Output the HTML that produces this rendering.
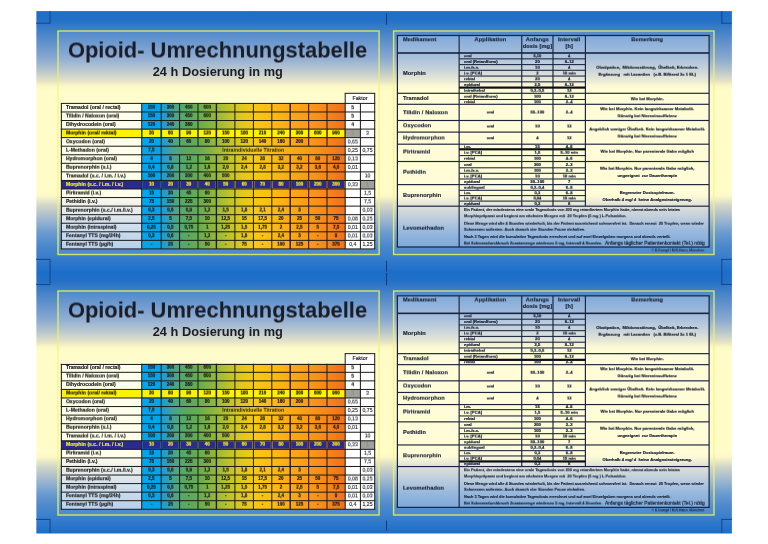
<!DOCTYPE html>
<html><head><meta charset="utf-8"><title>Opioid-Umrechnungstabelle</title>
<style>
html,body{margin:0;padding:0;background:#fff;}
body{width:768px;height:544px;position:relative;overflow:hidden;font-family:"Liberation Sans",sans-serif;}
#geo{position:absolute;left:0;top:0;}
.t{position:absolute;}
.ly{position:absolute;left:0;top:0;width:768px;height:544px;}
.t{white-space:pre;color:#1c1c1c;font-weight:bold;overflow:visible;}
.c{text-align:center;}
.title{font-size:21.9px;text-align:center;color:#1c1c24;transform:scaleY(1.035);transform-origin:0 20px;}
.sub{font-size:12.8px;text-align:center;color:#1c1c24;}
.cell{font-size:4.5px;-webkit-text-stroke:0.2px;}
.fk{font-size:5.2px;font-weight:normal;color:#242a38;-webkit-text-stroke:0.12px #242a38;}
.fh{font-size:5.3px;font-weight:normal;-webkit-text-stroke:0.15px;}
.lab{font-size:5.1px;-webkit-text-stroke:0.18px;}
.it{font-size:5.2px;color:#2a2010;}
.rh{font-size:5.6px;color:#1a2236;letter-spacing:0.12px;-webkit-text-stroke:0.18px #1a2236;}
.rn{font-size:5.6px;color:#1a2236;letter-spacing:0.1px;-webkit-text-stroke:0.18px #1a2236;}
.rs{font-size:4.1px;color:#1a2236;-webkit-text-stroke:0.22px #1a2236;}
.rm{font-size:4.15px;color:#1a2236;-webkit-text-stroke:0.2px #1a2236;}
.lv{font-size:3.9px;color:#1a2236;-webkit-text-stroke:0.13px #1a2236;}
.lv2{font-size:4.9px;color:#141828;font-weight:normal;-webkit-text-stroke:0.15px #141828;}
.cp{font-size:3.4px;color:#1a2236;text-align:right;}
</style></head><body>
<svg id="geo" width="768" height="544" viewBox="0 0 768 544">
<defs><linearGradient id="bgg" gradientUnits="userSpaceOnUse" x1="0" y1="11" x2="0" y2="272" spreadMethod="repeat"><stop offset="0%" stop-color="#1c6ec8"/><stop offset="3.4%" stop-color="#2270c6"/><stop offset="6.5%" stop-color="#3a7cc8"/><stop offset="11.1%" stop-color="#5a8ecb"/><stop offset="14.9%" stop-color="#749cce"/><stop offset="18%" stop-color="#88a8d0"/><stop offset="22.6%" stop-color="#b4c4cc"/><stop offset="26.8%" stop-color="#e4e2c4"/><stop offset="28.7%" stop-color="#fcf8c4"/><stop offset="30.3%" stop-color="#fffcc8"/><stop offset="69.3%" stop-color="#fffcc8"/><stop offset="70.9%" stop-color="#fcf8c8"/><stop offset="74.7%" stop-color="#d0d4c8"/><stop offset="79.7%" stop-color="#a0b8d0"/><stop offset="84.7%" stop-color="#6c9cd0"/><stop offset="89.8%" stop-color="#4c88cc"/><stop offset="93.5%" stop-color="#3c80cc"/><stop offset="96.9%" stop-color="#2a76ca"/><stop offset="100%" stop-color="#1c6ec8"/></linearGradient>
<linearGradient id="tg" x1="0" y1="0" x2="1" y2="0"><stop offset="0%" stop-color="#00a6ee"/><stop offset="8.5%" stop-color="#02a4ea"/><stop offset="12%" stop-color="#2c9cc0"/><stop offset="16%" stop-color="#4aa48c"/><stop offset="21%" stop-color="#58a864"/><stop offset="28%" stop-color="#66ac50"/><stop offset="35%" stop-color="#8cb63c"/><stop offset="42%" stop-color="#b8c22c"/><stop offset="49%" stop-color="#e0c81c"/><stop offset="56%" stop-color="#f8c812"/><stop offset="64%" stop-color="#fcbc12"/><stop offset="73%" stop-color="#fcaa14"/><stop offset="82%" stop-color="#fa9a18"/><stop offset="91%" stop-color="#f6861a"/><stop offset="100%" stop-color="#f0701c"/></linearGradient>
<linearGradient id="fg" gradientUnits="userSpaceOnUse" x1="0" y1="30.3" x2="0" y2="290.8" spreadMethod="repeat"><stop offset="0" stop-color="#d2e468"/><stop offset="0.17" stop-color="#e4ee74"/><stop offset="0.24" stop-color="#f6f68a"/><stop offset="0.62" stop-color="#f6f68a"/><stop offset="0.72" stop-color="#e2ec72"/><stop offset="0.86" stop-color="#d2e468"/><stop offset="1" stop-color="#d2e468"/></linearGradient></defs>
<rect x="36.35" y="11.1" width="695.55" height="522.4" fill="url(#bgg)"/>
<rect x="58.00" y="31.00" width="321.10" height="223.50" fill="rgba(255,255,255,0.07)"/>
<rect x="58.00" y="31.00" width="321.10" height="223.50" fill="none" stroke="url(#fg)" stroke-width="1.4"/>
<rect x="141.70" y="103.40" width="203.50" height="145.52" fill="url(#tg)"/>
<rect x="61.35" y="103.40" width="80.35" height="145.52" fill="rgba(255,255,255,0.6)"/>
<rect x="345.20" y="93.30" width="29.50" height="155.62" fill="#fff"/>
<rect x="61.35" y="129.08" width="80.35" height="8.56" fill="#fff200"/>
<rect x="142.65" y="129.68" width="17.60" height="7.36" fill="#fff200"/>
<rect x="162.15" y="129.68" width="16.50" height="7.36" fill="#fff200"/>
<rect x="180.55" y="129.68" width="16.50" height="7.36" fill="#fff200"/>
<rect x="198.95" y="129.68" width="16.50" height="7.36" fill="#fff200"/>
<rect x="217.35" y="129.68" width="16.60" height="7.36" fill="#fff200"/>
<rect x="235.85" y="129.68" width="16.60" height="7.36" fill="#fff200"/>
<rect x="254.35" y="129.68" width="16.50" height="7.36" fill="#fff200"/>
<rect x="272.75" y="129.68" width="16.50" height="7.36" fill="#fff200"/>
<rect x="291.15" y="129.68" width="16.60" height="7.36" fill="#fff200"/>
<rect x="309.65" y="129.68" width="16.40" height="7.36" fill="#fff200"/>
<rect x="327.95" y="129.68" width="16.30" height="7.36" fill="#fff200"/>
<rect x="345.20" y="129.08" width="15.20" height="8.56" fill="#a0a0a0"/>
<rect x="61.35" y="180.44" width="80.35" height="8.56" fill="#2a2a90"/>
<rect x="142.65" y="181.04" width="17.60" height="7.36" fill="#2a2a90"/>
<rect x="162.15" y="181.04" width="16.50" height="7.36" fill="#2a2a90"/>
<rect x="180.55" y="181.04" width="16.50" height="7.36" fill="#2a2a90"/>
<rect x="198.95" y="181.04" width="16.50" height="7.36" fill="#2a2a90"/>
<rect x="217.35" y="181.04" width="16.60" height="7.36" fill="#2a2a90"/>
<rect x="235.85" y="181.04" width="16.60" height="7.36" fill="#2a2a90"/>
<rect x="254.35" y="181.04" width="16.50" height="7.36" fill="#2a2a90"/>
<rect x="272.75" y="181.04" width="16.50" height="7.36" fill="#2a2a90"/>
<rect x="291.15" y="181.04" width="16.60" height="7.36" fill="#2a2a90"/>
<rect x="309.65" y="181.04" width="16.40" height="7.36" fill="#2a2a90"/>
<rect x="327.95" y="181.04" width="16.30" height="7.36" fill="#2a2a90"/>
<rect x="360.40" y="180.44" width="14.30" height="8.56" fill="#a0a0a0"/>
<rect x="60.85" y="102.90" width="314.35" height="1.00" fill="#1a1a18"/>
<rect x="60.85" y="111.46" width="314.35" height="1.00" fill="#1a1a18"/>
<rect x="60.85" y="120.02" width="314.35" height="1.00" fill="#1a1a18"/>
<rect x="60.85" y="128.58" width="314.35" height="1.00" fill="#1a1a18"/>
<rect x="60.85" y="137.14" width="314.35" height="1.00" fill="#1a1a18"/>
<rect x="60.85" y="145.70" width="314.35" height="1.00" fill="#1a1a18"/>
<rect x="60.85" y="154.26" width="314.35" height="1.00" fill="#1a1a18"/>
<rect x="60.85" y="162.82" width="314.35" height="1.00" fill="#1a1a18"/>
<rect x="60.85" y="171.38" width="314.35" height="1.00" fill="#1a1a18"/>
<rect x="60.85" y="179.94" width="314.35" height="1.00" fill="#1a1a18"/>
<rect x="60.85" y="188.50" width="314.35" height="1.00" fill="#1a1a18"/>
<rect x="60.85" y="197.06" width="314.35" height="1.00" fill="#1a1a18"/>
<rect x="60.85" y="205.62" width="314.35" height="1.00" fill="#1a1a18"/>
<rect x="60.85" y="214.18" width="314.35" height="1.00" fill="#1a1a18"/>
<rect x="60.85" y="222.74" width="314.35" height="1.00" fill="#1a1a18"/>
<rect x="60.85" y="231.30" width="314.35" height="1.00" fill="#1a1a18"/>
<rect x="60.85" y="239.86" width="314.35" height="1.00" fill="#1a1a18"/>
<rect x="60.85" y="248.42" width="314.35" height="1.00" fill="#1a1a18"/>
<rect x="344.70" y="92.80" width="30.50" height="1.00" fill="#1a1a18"/>
<rect x="344.70" y="93.30" width="1.00" height="10.10" fill="#1a1a18"/>
<rect x="374.20" y="93.30" width="1.00" height="10.10" fill="#1a1a18"/>
<rect x="60.85" y="103.40" width="1.00" height="145.52" fill="#1a1a18"/>
<rect x="141.20" y="103.40" width="1.00" height="145.52" fill="#1a1a18"/>
<rect x="160.70" y="103.40" width="1.00" height="145.52" fill="#1a1a18"/>
<rect x="179.10" y="103.40" width="1.00" height="42.80" fill="#1a1a18"/>
<rect x="179.10" y="154.76" width="1.00" height="94.16" fill="#1a1a18"/>
<rect x="197.50" y="103.40" width="1.00" height="42.80" fill="#1a1a18"/>
<rect x="197.50" y="154.76" width="1.00" height="94.16" fill="#1a1a18"/>
<rect x="215.72" y="103.40" width="1.35" height="42.80" fill="#1a1a18"/>
<rect x="215.72" y="154.76" width="1.35" height="94.16" fill="#1a1a18"/>
<rect x="234.40" y="103.40" width="1.00" height="42.80" fill="#1a1a18"/>
<rect x="234.40" y="154.76" width="1.00" height="94.16" fill="#1a1a18"/>
<rect x="252.90" y="103.40" width="1.00" height="42.80" fill="#1a1a18"/>
<rect x="252.90" y="154.76" width="1.00" height="94.16" fill="#1a1a18"/>
<rect x="271.30" y="103.40" width="1.00" height="42.80" fill="#1a1a18"/>
<rect x="271.30" y="154.76" width="1.00" height="94.16" fill="#1a1a18"/>
<rect x="289.52" y="103.40" width="1.35" height="42.80" fill="#1a1a18"/>
<rect x="289.52" y="154.76" width="1.35" height="94.16" fill="#1a1a18"/>
<rect x="308.20" y="103.40" width="1.00" height="42.80" fill="#1a1a18"/>
<rect x="308.20" y="154.76" width="1.00" height="94.16" fill="#1a1a18"/>
<rect x="326.50" y="103.40" width="1.00" height="42.80" fill="#1a1a18"/>
<rect x="326.50" y="154.76" width="1.00" height="94.16" fill="#1a1a18"/>
<rect x="344.70" y="103.40" width="1.00" height="145.52" fill="#1a1a18"/>
<rect x="359.90" y="103.40" width="1.00" height="145.52" fill="#1a1a18"/>
<rect x="374.20" y="103.40" width="1.00" height="145.52" fill="#1a1a18"/>
<rect x="393.60" y="31.00" width="320.40" height="223.50" fill="rgba(255,255,255,0.07)"/>
<rect x="393.60" y="31.00" width="320.40" height="223.50" fill="none" stroke="url(#fg)" stroke-width="1.4"/>
<rect x="397.40" y="35.50" width="311.70" height="211.50" fill="rgba(255,255,255,0.24)"/>
<rect x="459.15" y="53.00" width="126.25" height="40.30" fill="rgba(255,255,255,0.08)"/>
<rect x="459.15" y="93.30" width="126.25" height="11.00" fill="rgba(255,255,255,0.08)"/>
<rect x="459.15" y="144.20" width="126.25" height="17.30" fill="rgba(255,255,255,0.08)"/>
<rect x="459.15" y="161.50" width="126.25" height="23.10" fill="rgba(255,255,255,0.08)"/>
<rect x="459.15" y="184.60" width="126.25" height="21.60" fill="rgba(255,255,255,0.08)"/>
<rect x="396.80" y="34.90" width="312.90" height="1.20" fill="#1a243c"/>
<rect x="396.80" y="246.40" width="312.90" height="1.20" fill="#1a243c"/>
<rect x="397.40" y="52.20" width="311.70" height="1.60" fill="#1a243c"/>
<rect x="396.80" y="35.50" width="1.20" height="211.50" fill="#1a243c"/>
<rect x="708.50" y="35.50" width="1.20" height="211.50" fill="#1a243c"/>
<rect x="458.57" y="35.50" width="1.15" height="211.50" fill="#1a243c"/>
<rect x="521.17" y="35.50" width="1.15" height="170.60" fill="#1a243c"/>
<rect x="552.42" y="35.50" width="1.15" height="170.60" fill="#1a243c"/>
<rect x="584.82" y="35.50" width="1.15" height="170.60" fill="#1a243c"/>
<rect x="397.40" y="92.72" width="311.70" height="1.15" fill="#1a243c"/>
<rect x="459.15" y="58.33" width="126.25" height="1.05" fill="#1a243c"/>
<rect x="459.15" y="64.07" width="126.25" height="1.05" fill="#1a243c"/>
<rect x="459.15" y="69.77" width="126.25" height="1.05" fill="#1a243c"/>
<rect x="459.15" y="75.52" width="126.25" height="1.05" fill="#1a243c"/>
<rect x="459.15" y="81.32" width="126.25" height="1.05" fill="#1a243c"/>
<rect x="459.15" y="86.50" width="126.25" height="2.20" fill="#0c0e16"/>
<rect x="397.40" y="103.72" width="311.70" height="1.15" fill="#1a243c"/>
<rect x="459.15" y="98.97" width="126.25" height="1.05" fill="#1a243c"/>
<rect x="397.40" y="119.92" width="311.70" height="1.15" fill="#1a243c"/>
<rect x="397.40" y="131.53" width="188.00" height="1.15" fill="#1a243c"/>
<rect x="397.40" y="143.62" width="311.70" height="1.15" fill="#1a243c"/>
<rect x="397.40" y="160.93" width="311.70" height="1.15" fill="#1a243c"/>
<rect x="459.15" y="148.20" width="126.25" height="2.20" fill="#0c0e16"/>
<rect x="459.15" y="155.07" width="126.25" height="1.05" fill="#1a243c"/>
<rect x="397.40" y="184.03" width="311.70" height="1.15" fill="#1a243c"/>
<rect x="459.15" y="167.28" width="126.25" height="1.05" fill="#1a243c"/>
<rect x="459.15" y="172.78" width="126.25" height="1.05" fill="#1a243c"/>
<rect x="459.15" y="178.47" width="126.25" height="1.05" fill="#1a243c"/>
<rect x="397.40" y="205.62" width="311.70" height="1.15" fill="#1a243c"/>
<rect x="459.15" y="189.78" width="126.25" height="1.05" fill="#1a243c"/>
<rect x="459.15" y="195.07" width="126.25" height="1.05" fill="#1a243c"/>
<rect x="459.15" y="200.57" width="126.25" height="1.05" fill="#1a243c"/>
<rect x="58.00" y="291.00" width="321.10" height="224.00" fill="rgba(255,255,255,0.07)"/>
<rect x="58.00" y="291.00" width="321.10" height="224.00" fill="none" stroke="url(#fg)" stroke-width="1.4"/>
<rect x="141.70" y="363.75" width="203.50" height="145.52" fill="url(#tg)"/>
<rect x="61.35" y="363.75" width="80.35" height="145.52" fill="rgba(255,255,255,0.6)"/>
<rect x="345.20" y="353.65" width="29.50" height="155.62" fill="#fff"/>
<rect x="61.35" y="389.43" width="80.35" height="8.56" fill="#fff200"/>
<rect x="142.65" y="390.03" width="17.60" height="7.36" fill="#fff200"/>
<rect x="162.15" y="390.03" width="16.50" height="7.36" fill="#fff200"/>
<rect x="180.55" y="390.03" width="16.50" height="7.36" fill="#fff200"/>
<rect x="198.95" y="390.03" width="16.50" height="7.36" fill="#fff200"/>
<rect x="217.35" y="390.03" width="16.60" height="7.36" fill="#fff200"/>
<rect x="235.85" y="390.03" width="16.60" height="7.36" fill="#fff200"/>
<rect x="254.35" y="390.03" width="16.50" height="7.36" fill="#fff200"/>
<rect x="272.75" y="390.03" width="16.50" height="7.36" fill="#fff200"/>
<rect x="291.15" y="390.03" width="16.60" height="7.36" fill="#fff200"/>
<rect x="309.65" y="390.03" width="16.40" height="7.36" fill="#fff200"/>
<rect x="327.95" y="390.03" width="16.30" height="7.36" fill="#fff200"/>
<rect x="345.20" y="389.43" width="15.20" height="8.56" fill="#a0a0a0"/>
<rect x="61.35" y="440.79" width="80.35" height="8.56" fill="#2a2a90"/>
<rect x="142.65" y="441.39" width="17.60" height="7.36" fill="#2a2a90"/>
<rect x="162.15" y="441.39" width="16.50" height="7.36" fill="#2a2a90"/>
<rect x="180.55" y="441.39" width="16.50" height="7.36" fill="#2a2a90"/>
<rect x="198.95" y="441.39" width="16.50" height="7.36" fill="#2a2a90"/>
<rect x="217.35" y="441.39" width="16.60" height="7.36" fill="#2a2a90"/>
<rect x="235.85" y="441.39" width="16.60" height="7.36" fill="#2a2a90"/>
<rect x="254.35" y="441.39" width="16.50" height="7.36" fill="#2a2a90"/>
<rect x="272.75" y="441.39" width="16.50" height="7.36" fill="#2a2a90"/>
<rect x="291.15" y="441.39" width="16.60" height="7.36" fill="#2a2a90"/>
<rect x="309.65" y="441.39" width="16.40" height="7.36" fill="#2a2a90"/>
<rect x="327.95" y="441.39" width="16.30" height="7.36" fill="#2a2a90"/>
<rect x="360.40" y="440.79" width="14.30" height="8.56" fill="#a0a0a0"/>
<rect x="60.85" y="363.95" width="314.35" height="1.00" fill="#1a1a18"/>
<rect x="60.85" y="371.81" width="314.35" height="1.00" fill="#1a1a18"/>
<rect x="60.85" y="380.37" width="314.35" height="1.00" fill="#1a1a18"/>
<rect x="60.85" y="388.93" width="314.35" height="1.00" fill="#1a1a18"/>
<rect x="60.85" y="397.49" width="314.35" height="1.00" fill="#1a1a18"/>
<rect x="60.85" y="406.05" width="314.35" height="1.00" fill="#1a1a18"/>
<rect x="60.85" y="414.61" width="314.35" height="1.00" fill="#1a1a18"/>
<rect x="60.85" y="423.17" width="314.35" height="1.00" fill="#1a1a18"/>
<rect x="60.85" y="431.73" width="314.35" height="1.00" fill="#1a1a18"/>
<rect x="60.85" y="440.29" width="314.35" height="1.00" fill="#1a1a18"/>
<rect x="60.85" y="448.85" width="314.35" height="1.00" fill="#1a1a18"/>
<rect x="60.85" y="457.41" width="314.35" height="1.00" fill="#1a1a18"/>
<rect x="60.85" y="465.97" width="314.35" height="1.00" fill="#1a1a18"/>
<rect x="60.85" y="474.53" width="314.35" height="1.00" fill="#1a1a18"/>
<rect x="60.85" y="483.09" width="314.35" height="1.00" fill="#1a1a18"/>
<rect x="60.85" y="491.65" width="314.35" height="1.00" fill="#1a1a18"/>
<rect x="60.85" y="500.21" width="314.35" height="1.00" fill="#1a1a18"/>
<rect x="60.85" y="508.77" width="314.35" height="1.00" fill="#1a1a18"/>
<rect x="344.70" y="353.15" width="30.50" height="1.00" fill="#1a1a18"/>
<rect x="344.70" y="353.65" width="1.00" height="10.10" fill="#1a1a18"/>
<rect x="374.20" y="353.65" width="1.00" height="10.10" fill="#1a1a18"/>
<rect x="60.85" y="363.75" width="1.00" height="145.52" fill="#1a1a18"/>
<rect x="141.20" y="363.75" width="1.00" height="145.52" fill="#1a1a18"/>
<rect x="160.70" y="363.75" width="1.00" height="145.52" fill="#1a1a18"/>
<rect x="179.10" y="363.75" width="1.00" height="42.80" fill="#1a1a18"/>
<rect x="179.10" y="415.11" width="1.00" height="94.16" fill="#1a1a18"/>
<rect x="197.50" y="363.75" width="1.00" height="42.80" fill="#1a1a18"/>
<rect x="197.50" y="415.11" width="1.00" height="94.16" fill="#1a1a18"/>
<rect x="215.72" y="363.75" width="1.35" height="42.80" fill="#1a1a18"/>
<rect x="215.72" y="415.11" width="1.35" height="94.16" fill="#1a1a18"/>
<rect x="234.40" y="363.75" width="1.00" height="42.80" fill="#1a1a18"/>
<rect x="234.40" y="415.11" width="1.00" height="94.16" fill="#1a1a18"/>
<rect x="252.90" y="363.75" width="1.00" height="42.80" fill="#1a1a18"/>
<rect x="252.90" y="415.11" width="1.00" height="94.16" fill="#1a1a18"/>
<rect x="271.30" y="363.75" width="1.00" height="42.80" fill="#1a1a18"/>
<rect x="271.30" y="415.11" width="1.00" height="94.16" fill="#1a1a18"/>
<rect x="289.52" y="363.75" width="1.35" height="42.80" fill="#1a1a18"/>
<rect x="289.52" y="415.11" width="1.35" height="94.16" fill="#1a1a18"/>
<rect x="308.20" y="363.75" width="1.00" height="42.80" fill="#1a1a18"/>
<rect x="308.20" y="415.11" width="1.00" height="94.16" fill="#1a1a18"/>
<rect x="326.50" y="363.75" width="1.00" height="42.80" fill="#1a1a18"/>
<rect x="326.50" y="415.11" width="1.00" height="94.16" fill="#1a1a18"/>
<rect x="344.70" y="363.75" width="1.00" height="145.52" fill="#1a1a18"/>
<rect x="359.90" y="363.75" width="1.00" height="145.52" fill="#1a1a18"/>
<rect x="374.20" y="363.75" width="1.00" height="145.52" fill="#1a1a18"/>
<rect x="393.60" y="291.00" width="320.40" height="224.00" fill="rgba(255,255,255,0.07)"/>
<rect x="393.60" y="291.00" width="320.40" height="224.00" fill="none" stroke="url(#fg)" stroke-width="1.4"/>
<rect x="397.40" y="295.85" width="311.70" height="211.50" fill="rgba(255,255,255,0.24)"/>
<rect x="459.15" y="313.35" width="126.25" height="40.30" fill="rgba(255,255,255,0.08)"/>
<rect x="459.15" y="353.65" width="126.25" height="11.00" fill="rgba(255,255,255,0.08)"/>
<rect x="459.15" y="404.55" width="126.25" height="17.30" fill="rgba(255,255,255,0.08)"/>
<rect x="459.15" y="421.85" width="126.25" height="23.10" fill="rgba(255,255,255,0.08)"/>
<rect x="459.15" y="444.95" width="126.25" height="21.60" fill="rgba(255,255,255,0.08)"/>
<rect x="396.80" y="295.25" width="312.90" height="1.20" fill="#1a243c"/>
<rect x="396.80" y="506.75" width="312.90" height="1.20" fill="#1a243c"/>
<rect x="397.40" y="312.55" width="311.70" height="1.60" fill="#1a243c"/>
<rect x="396.80" y="295.85" width="1.20" height="211.50" fill="#1a243c"/>
<rect x="708.50" y="295.85" width="1.20" height="211.50" fill="#1a243c"/>
<rect x="458.57" y="295.85" width="1.15" height="211.50" fill="#1a243c"/>
<rect x="521.17" y="295.85" width="1.15" height="170.60" fill="#1a243c"/>
<rect x="552.42" y="295.85" width="1.15" height="170.60" fill="#1a243c"/>
<rect x="584.82" y="295.85" width="1.15" height="170.60" fill="#1a243c"/>
<rect x="397.40" y="353.08" width="311.70" height="1.15" fill="#1a243c"/>
<rect x="459.15" y="318.68" width="126.25" height="1.05" fill="#1a243c"/>
<rect x="459.15" y="324.43" width="126.25" height="1.05" fill="#1a243c"/>
<rect x="459.15" y="330.13" width="126.25" height="1.05" fill="#1a243c"/>
<rect x="459.15" y="335.88" width="126.25" height="1.05" fill="#1a243c"/>
<rect x="459.15" y="341.68" width="126.25" height="1.05" fill="#1a243c"/>
<rect x="459.15" y="347.43" width="126.25" height="1.05" fill="#1a243c"/>
<rect x="397.40" y="364.08" width="311.70" height="1.15" fill="#1a243c"/>
<rect x="459.15" y="358.75" width="126.25" height="2.20" fill="#0c0e16"/>
<rect x="397.40" y="380.28" width="311.70" height="1.15" fill="#1a243c"/>
<rect x="397.40" y="391.88" width="188.00" height="1.15" fill="#1a243c"/>
<rect x="397.40" y="403.98" width="311.70" height="1.15" fill="#1a243c"/>
<rect x="397.40" y="421.28" width="311.70" height="1.15" fill="#1a243c"/>
<rect x="459.15" y="409.13" width="126.25" height="1.05" fill="#1a243c"/>
<rect x="459.15" y="415.43" width="126.25" height="1.05" fill="#1a243c"/>
<rect x="397.40" y="444.38" width="311.70" height="1.15" fill="#1a243c"/>
<rect x="459.15" y="427.63" width="126.25" height="1.05" fill="#1a243c"/>
<rect x="459.15" y="433.13" width="126.25" height="1.05" fill="#1a243c"/>
<rect x="459.15" y="438.83" width="126.25" height="1.05" fill="#1a243c"/>
<rect x="397.40" y="465.98" width="311.70" height="1.15" fill="#1a243c"/>
<rect x="459.15" y="450.13" width="126.25" height="1.05" fill="#1a243c"/>
<rect x="459.15" y="455.43" width="126.25" height="1.05" fill="#1a243c"/>
<rect x="459.15" y="460.35" width="126.25" height="2.20" fill="#0c0e16"/>
<rect x="49.60" y="11.00" width="0.90" height="12.50" fill="#143e86"/>
<rect x="721.40" y="11.00" width="0.90" height="12.50" fill="#143e86"/>
<rect x="49.60" y="259.00" width="0.90" height="25.70" fill="#143e86"/>
<rect x="721.40" y="259.00" width="0.90" height="25.70" fill="#143e86"/>
<rect x="49.60" y="518.90" width="0.90" height="14.10" fill="#143e86"/>
<rect x="721.40" y="518.90" width="0.90" height="14.10" fill="#143e86"/>
<rect x="36.00" y="22.70" width="14.00" height="0.90" fill="#143e86"/>
<rect x="721.40" y="22.70" width="10.60" height="0.90" fill="#143e86"/>
<rect x="36.00" y="258.90" width="14.00" height="0.90" fill="#143e86"/>
<rect x="721.40" y="258.90" width="10.60" height="0.90" fill="#143e86"/>
<rect x="36.00" y="283.90" width="14.00" height="0.90" fill="#143e86"/>
<rect x="721.40" y="283.90" width="10.60" height="0.90" fill="#143e86"/>
<rect x="36.00" y="518.90" width="14.00" height="0.90" fill="#143e86"/>
<rect x="721.40" y="518.90" width="10.60" height="0.90" fill="#143e86"/>
<rect x="386.15" y="13.50" width="0.75" height="11.20" fill="#0e2450"/>
<rect x="386.15" y="260.70" width="0.75" height="10.90" fill="#0e2450"/>
<rect x="386.15" y="273.00" width="0.75" height="12.20" fill="#0e2450"/>
<rect x="386.15" y="520.60" width="0.75" height="10.00" fill="#0e2450"/>
</svg>
<div class="ly" style="transform:perspective(10000px) translate3d(0,0.0px,0.1px);">
<div class="t sub" style="left:56.80px;top:64.10px;width:322.00px;height:15.36px;line-height:15.36px;">24 h Dosierung in mg</div>
<div class="t c fh" style="left:345.20px;top:94.10px;width:29.50px;height:8.00px;line-height:8.00px;">Faktor</div>
<div class="t lab" style="left:65.90px;top:103.10px;width:76.00px;height:8.00px;line-height:8.00px;">Tramadol (oral / rectal)</div>
<div class="t lab" style="left:65.90px;top:120.10px;width:76.00px;height:8.00px;line-height:8.00px;">Dihydrocodein (oral)</div>
<div class="t c cell" style="left:141.70px;top:121.10px;width:19.50px;height:8.00px;line-height:8.00px;">120</div>
<div class="t c cell" style="left:161.20px;top:121.10px;width:18.40px;height:8.00px;line-height:8.00px;">240</div>
<div class="t c cell" style="left:179.60px;top:121.10px;width:18.40px;height:8.00px;line-height:8.00px;">360</div>
<div class="t c cell" style="left:141.70px;top:138.10px;width:19.50px;height:8.00px;line-height:8.00px;">20</div>
<div class="t c cell" style="left:161.20px;top:138.10px;width:18.40px;height:8.00px;line-height:8.00px;">40</div>
<div class="t c cell" style="left:179.60px;top:138.10px;width:18.40px;height:8.00px;line-height:8.00px;">60</div>
<div class="t c cell" style="left:198.00px;top:138.10px;width:18.40px;height:8.00px;line-height:8.00px;">80</div>
<div class="t c cell" style="left:216.40px;top:138.10px;width:18.50px;height:8.00px;line-height:8.00px;">100</div>
<div class="t c cell" style="left:234.90px;top:138.10px;width:18.50px;height:8.00px;line-height:8.00px;">120</div>
<div class="t c cell" style="left:253.40px;top:138.10px;width:18.40px;height:8.00px;line-height:8.00px;">140</div>
<div class="t c cell" style="left:271.80px;top:138.10px;width:18.40px;height:8.00px;line-height:8.00px;">160</div>
<div class="t c cell" style="left:290.20px;top:138.10px;width:18.50px;height:8.00px;line-height:8.00px;">200</div>
<div class="t c fk" style="left:345.20px;top:146.10px;width:15.20px;height:8.00px;line-height:8.00px;">0,25</div>
<div class="t c fk" style="left:360.40px;top:146.10px;width:14.30px;height:8.00px;line-height:8.00px;">0,75</div>
<div class="t c fk" style="left:345.20px;top:163.10px;width:15.20px;height:8.00px;line-height:8.00px;">0,01</div>
<div class="t lab" style="left:65.90px;top:180.10px;width:76.00px;height:8.00px;line-height:8.00px;color:#f4ec20;">Morphin (s.c. / i.m. / i.v.)</div>
<div class="t lab" style="left:65.90px;top:197.10px;width:76.00px;height:8.00px;line-height:8.00px;">Pethidin (i.v.)</div>
<div class="t c cell" style="left:141.70px;top:198.10px;width:19.50px;height:8.00px;line-height:8.00px;">75</div>
<div class="t c cell" style="left:161.20px;top:198.10px;width:18.40px;height:8.00px;line-height:8.00px;">150</div>
<div class="t c cell" style="left:179.60px;top:198.10px;width:18.40px;height:8.00px;line-height:8.00px;">225</div>
<div class="t c cell" style="left:198.00px;top:198.10px;width:18.40px;height:8.00px;line-height:8.00px;">300</div>
<div class="t c cell" style="left:141.70px;top:215.10px;width:19.50px;height:8.00px;line-height:8.00px;">2,5</div>
<div class="t c cell" style="left:161.20px;top:215.10px;width:18.40px;height:8.00px;line-height:8.00px;">5</div>
<div class="t c cell" style="left:179.60px;top:215.10px;width:18.40px;height:8.00px;line-height:8.00px;">7,5</div>
<div class="t c cell" style="left:198.00px;top:215.10px;width:18.40px;height:8.00px;line-height:8.00px;">10</div>
<div class="t c cell" style="left:216.40px;top:215.10px;width:18.50px;height:8.00px;line-height:8.00px;">12,5</div>
<div class="t c cell" style="left:234.90px;top:215.10px;width:18.50px;height:8.00px;line-height:8.00px;">15</div>
<div class="t c cell" style="left:253.40px;top:215.10px;width:18.40px;height:8.00px;line-height:8.00px;">17,5</div>
<div class="t c cell" style="left:271.80px;top:215.10px;width:18.40px;height:8.00px;line-height:8.00px;">20</div>
<div class="t c cell" style="left:290.20px;top:215.10px;width:18.50px;height:8.00px;line-height:8.00px;">25</div>
<div class="t c cell" style="left:308.70px;top:215.10px;width:18.30px;height:8.00px;line-height:8.00px;">50</div>
<div class="t c cell" style="left:327.00px;top:215.10px;width:18.20px;height:8.00px;line-height:8.00px;">75</div>
<div class="t c fk" style="left:345.20px;top:223.10px;width:15.20px;height:8.00px;line-height:8.00px;">0,01</div>
<div class="t c fk" style="left:360.40px;top:223.10px;width:14.30px;height:8.00px;line-height:8.00px;">0,03</div>
<div class="t c fk" style="left:345.20px;top:240.10px;width:15.20px;height:8.00px;line-height:8.00px;">0,4</div>
<div class="t c fk" style="left:360.40px;top:240.10px;width:14.30px;height:8.00px;line-height:8.00px;">1,25</div>
<div class="t c rh" style="left:521.75px;top:42.10px;width:31.25px;height:8.00px;line-height:8.00px;">dosis [mg]</div>
<div class="t c rh" style="left:553.00px;top:42.10px;width:32.40px;height:8.00px;line-height:8.00px;">[h]</div>
<div class="t rn" style="left:403.10px;top:69.10px;width:56.75px;height:8.00px;line-height:8.00px;">Morphin</div>
<div class="t rs" style="left:464.10px;top:58.10px;width:58.60px;height:8.00px;line-height:8.00px;">oral (Retardform)</div>
<div class="t c rs" style="left:521.75px;top:58.10px;width:31.25px;height:8.00px;line-height:8.00px;">20</div>
<div class="t c rs" style="left:553.00px;top:58.10px;width:32.40px;height:8.00px;line-height:8.00px;">8..12</div>
<div class="t rs" style="left:464.10px;top:81.10px;width:58.60px;height:8.00px;line-height:8.00px;">epidural</div>
<div class="t c rs" style="left:521.75px;top:81.10px;width:31.25px;height:8.00px;line-height:8.00px;">2,5</div>
<div class="t c rs" style="left:553.00px;top:81.10px;width:32.40px;height:8.00px;line-height:8.00px;">8..12</div>
<div class="t rn" style="left:403.10px;top:94.10px;width:56.75px;height:8.00px;line-height:8.00px;">Tramadol</div>
<div class="t rs" style="left:464.10px;top:143.10px;width:58.60px;height:8.00px;line-height:8.00px;">i.m.</div>
<div class="t c rs" style="left:521.75px;top:143.10px;width:31.25px;height:8.00px;line-height:8.00px;">15</div>
<div class="t c rs" style="left:553.00px;top:143.10px;width:32.40px;height:8.00px;line-height:8.00px;">4..6</div>
<div class="t rs" style="left:464.10px;top:161.10px;width:58.60px;height:8.00px;line-height:8.00px;">oral</div>
<div class="t c rs" style="left:521.75px;top:161.10px;width:31.25px;height:8.00px;line-height:8.00px;">300</div>
<div class="t c rs" style="left:553.00px;top:161.10px;width:32.40px;height:8.00px;line-height:8.00px;">2..3</div>
<div class="t rs" style="left:464.10px;top:178.10px;width:58.60px;height:8.00px;line-height:8.00px;">epidural</div>
<div class="t c rs" style="left:521.75px;top:178.10px;width:31.25px;height:8.00px;line-height:8.00px;">50..100</div>
<div class="t c rs" style="left:553.00px;top:178.10px;width:32.40px;height:8.00px;line-height:8.00px;">7</div>
<div class="t c rm" style="left:585.40px;top:172.10px;width:123.70px;height:8.00px;line-height:8.00px;">ungeeignet  zur Dauertherapie</div>
<div class="t rn" style="left:403.10px;top:191.10px;width:56.75px;height:8.00px;line-height:8.00px;">Buprenorphin</div>
<div class="t rs" style="left:464.10px;top:200.10px;width:58.60px;height:8.00px;line-height:8.00px;">epidural</div>
<div class="t c rs" style="left:521.75px;top:200.10px;width:31.25px;height:8.00px;line-height:8.00px;">0,3</div>
<div class="t c rs" style="left:553.00px;top:200.10px;width:32.40px;height:8.00px;line-height:8.00px;">8</div>
<div class="t c rm" style="left:585.40px;top:189.10px;width:123.70px;height:8.00px;line-height:8.00px;">Begrenzter Dosisspielraum.</div>
<div class="t c rm" style="left:585.40px;top:196.10px;width:123.70px;height:8.00px;line-height:8.00px;">Oberhalb 4 mg/ d  keine Analgesiesteigerung.</div>
<div class="t lv" style="left:463.90px;top:206.10px;width:250.00px;height:8.00px;line-height:8.00px;">Ein Patient, der mindestens eine orale Tagesdosis von 200 mg retardiertem Morphin hatte, nimmt abends sein letztes</div>
<div class="t lv" style="left:463.90px;top:233.10px;width:250.00px;height:8.00px;line-height:8.00px;">Nach 3 Tagen wird die kumulative Tagesdosis errechnet und auf zwei Einzelgaben morgens und abends verteilt.</div>
<div class="t sub" style="left:56.80px;top:324.10px;width:322.00px;height:15.36px;line-height:15.36px;">24 h Dosierung in mg</div>
<div class="t c fh" style="left:345.20px;top:354.10px;width:29.50px;height:8.00px;line-height:8.00px;">Faktor</div>
<div class="t lab" style="left:65.90px;top:363.10px;width:76.00px;height:8.00px;line-height:8.00px;">Tramadol (oral / rectal)</div>
<div class="t lab" style="left:65.90px;top:380.10px;width:76.00px;height:8.00px;line-height:8.00px;">Dihydrocodein (oral)</div>
<div class="t c cell" style="left:141.70px;top:381.10px;width:19.50px;height:8.00px;line-height:8.00px;">120</div>
<div class="t c cell" style="left:161.20px;top:381.10px;width:18.40px;height:8.00px;line-height:8.00px;">240</div>
<div class="t c cell" style="left:179.60px;top:381.10px;width:18.40px;height:8.00px;line-height:8.00px;">360</div>
<div class="t c cell" style="left:141.70px;top:398.10px;width:19.50px;height:8.00px;line-height:8.00px;">20</div>
<div class="t c cell" style="left:161.20px;top:398.10px;width:18.40px;height:8.00px;line-height:8.00px;">40</div>
<div class="t c cell" style="left:179.60px;top:398.10px;width:18.40px;height:8.00px;line-height:8.00px;">60</div>
<div class="t c cell" style="left:198.00px;top:398.10px;width:18.40px;height:8.00px;line-height:8.00px;">80</div>
<div class="t c cell" style="left:216.40px;top:398.10px;width:18.50px;height:8.00px;line-height:8.00px;">100</div>
<div class="t c cell" style="left:234.90px;top:398.10px;width:18.50px;height:8.00px;line-height:8.00px;">120</div>
<div class="t c cell" style="left:253.40px;top:398.10px;width:18.40px;height:8.00px;line-height:8.00px;">140</div>
<div class="t c cell" style="left:271.80px;top:398.10px;width:18.40px;height:8.00px;line-height:8.00px;">160</div>
<div class="t c cell" style="left:290.20px;top:398.10px;width:18.50px;height:8.00px;line-height:8.00px;">200</div>
<div class="t c fk" style="left:345.20px;top:406.10px;width:15.20px;height:8.00px;line-height:8.00px;">0,25</div>
<div class="t c fk" style="left:360.40px;top:406.10px;width:14.30px;height:8.00px;line-height:8.00px;">0,75</div>
<div class="t c fk" style="left:345.20px;top:423.10px;width:15.20px;height:8.00px;line-height:8.00px;">0,01</div>
<div class="t lab" style="left:65.90px;top:440.10px;width:76.00px;height:8.00px;line-height:8.00px;color:#f4ec20;">Morphin (s.c. / i.m. / i.v.)</div>
<div class="t lab" style="left:65.90px;top:457.10px;width:76.00px;height:8.00px;line-height:8.00px;">Pethidin (i.v.)</div>
<div class="t c cell" style="left:141.70px;top:458.10px;width:19.50px;height:8.00px;line-height:8.00px;">75</div>
<div class="t c cell" style="left:161.20px;top:458.10px;width:18.40px;height:8.00px;line-height:8.00px;">150</div>
<div class="t c cell" style="left:179.60px;top:458.10px;width:18.40px;height:8.00px;line-height:8.00px;">225</div>
<div class="t c cell" style="left:198.00px;top:458.10px;width:18.40px;height:8.00px;line-height:8.00px;">300</div>
<div class="t c cell" style="left:141.70px;top:475.10px;width:19.50px;height:8.00px;line-height:8.00px;">2,5</div>
<div class="t c cell" style="left:161.20px;top:475.10px;width:18.40px;height:8.00px;line-height:8.00px;">5</div>
<div class="t c cell" style="left:179.60px;top:475.10px;width:18.40px;height:8.00px;line-height:8.00px;">7,5</div>
<div class="t c cell" style="left:198.00px;top:475.10px;width:18.40px;height:8.00px;line-height:8.00px;">10</div>
<div class="t c cell" style="left:216.40px;top:475.10px;width:18.50px;height:8.00px;line-height:8.00px;">12,5</div>
<div class="t c cell" style="left:234.90px;top:475.10px;width:18.50px;height:8.00px;line-height:8.00px;">15</div>
<div class="t c cell" style="left:253.40px;top:475.10px;width:18.40px;height:8.00px;line-height:8.00px;">17,5</div>
<div class="t c cell" style="left:271.80px;top:475.10px;width:18.40px;height:8.00px;line-height:8.00px;">20</div>
<div class="t c cell" style="left:290.20px;top:475.10px;width:18.50px;height:8.00px;line-height:8.00px;">25</div>
<div class="t c cell" style="left:308.70px;top:475.10px;width:18.30px;height:8.00px;line-height:8.00px;">50</div>
<div class="t c cell" style="left:327.00px;top:475.10px;width:18.20px;height:8.00px;line-height:8.00px;">75</div>
<div class="t c fk" style="left:345.20px;top:483.10px;width:15.20px;height:8.00px;line-height:8.00px;">0,01</div>
<div class="t c fk" style="left:360.40px;top:483.10px;width:14.30px;height:8.00px;line-height:8.00px;">0,03</div>
<div class="t c fk" style="left:345.20px;top:500.10px;width:15.20px;height:8.00px;line-height:8.00px;">0,4</div>
<div class="t c fk" style="left:360.40px;top:500.10px;width:14.30px;height:8.00px;line-height:8.00px;">1,25</div>
<div class="t c rh" style="left:521.75px;top:302.10px;width:31.25px;height:8.00px;line-height:8.00px;">dosis [mg]</div>
<div class="t c rh" style="left:553.00px;top:302.10px;width:32.40px;height:8.00px;line-height:8.00px;">[h]</div>
<div class="t rn" style="left:403.10px;top:329.10px;width:56.75px;height:8.00px;line-height:8.00px;">Morphin</div>
<div class="t rs" style="left:464.10px;top:318.10px;width:58.60px;height:8.00px;line-height:8.00px;">oral (Retardform)</div>
<div class="t c rs" style="left:521.75px;top:318.10px;width:31.25px;height:8.00px;line-height:8.00px;">20</div>
<div class="t c rs" style="left:553.00px;top:318.10px;width:32.40px;height:8.00px;line-height:8.00px;">8..12</div>
<div class="t rs" style="left:464.10px;top:341.10px;width:58.60px;height:8.00px;line-height:8.00px;">epidural</div>
<div class="t c rs" style="left:521.75px;top:341.10px;width:31.25px;height:8.00px;line-height:8.00px;">2,5</div>
<div class="t c rs" style="left:553.00px;top:341.10px;width:32.40px;height:8.00px;line-height:8.00px;">8..12</div>
<div class="t c rm" style="left:585.40px;top:324.10px;width:123.70px;height:8.00px;line-height:8.00px;">Obstipation,  Miktionsstörung,  Übelkeit, Erbrechen.</div>
<div class="t rs" style="left:464.10px;top:403.10px;width:58.60px;height:8.00px;line-height:8.00px;">i.m.</div>
<div class="t c rs" style="left:521.75px;top:403.10px;width:31.25px;height:8.00px;line-height:8.00px;">15</div>
<div class="t c rs" style="left:553.00px;top:403.10px;width:32.40px;height:8.00px;line-height:8.00px;">4..6</div>
<div class="t rs" style="left:464.10px;top:415.10px;width:58.60px;height:8.00px;line-height:8.00px;">rektal</div>
<div class="t c rs" style="left:521.75px;top:415.10px;width:31.25px;height:8.00px;line-height:8.00px;">100</div>
<div class="t c rs" style="left:553.00px;top:415.10px;width:32.40px;height:8.00px;line-height:8.00px;">4..6</div>
<div class="t rn" style="left:403.10px;top:428.10px;width:56.75px;height:8.00px;line-height:8.00px;">Pethidin</div>
<div class="t rs" style="left:464.10px;top:421.10px;width:58.60px;height:8.00px;line-height:8.00px;">oral</div>
<div class="t c rs" style="left:521.75px;top:421.10px;width:31.25px;height:8.00px;line-height:8.00px;">300</div>
<div class="t c rs" style="left:553.00px;top:421.10px;width:32.40px;height:8.00px;line-height:8.00px;">2..3</div>
<div class="t rs" style="left:464.10px;top:427.10px;width:58.60px;height:8.00px;line-height:8.00px;">i.m./s.c.</div>
<div class="t c rs" style="left:521.75px;top:427.10px;width:31.25px;height:8.00px;line-height:8.00px;">100</div>
<div class="t c rs" style="left:553.00px;top:427.10px;width:32.40px;height:8.00px;line-height:8.00px;">2..3</div>
<div class="t c rm" style="left:585.40px;top:432.10px;width:123.70px;height:8.00px;line-height:8.00px;">ungeeignet  zur Dauertherapie</div>
<div class="t rs" style="left:464.10px;top:460.10px;width:58.60px;height:8.00px;line-height:8.00px;">epidural</div>
<div class="t c rs" style="left:521.75px;top:460.10px;width:31.25px;height:8.00px;line-height:8.00px;">0,3</div>
<div class="t c rs" style="left:553.00px;top:460.10px;width:32.40px;height:8.00px;line-height:8.00px;">8</div>
<div class="t c rm" style="left:585.40px;top:449.10px;width:123.70px;height:8.00px;line-height:8.00px;">Begrenzter Dosisspielraum.</div>
<div class="t c rm" style="left:585.40px;top:456.10px;width:123.70px;height:8.00px;line-height:8.00px;">Oberhalb 4 mg/ d  keine Analgesiesteigerung.</div>
<div class="t lv" style="left:463.90px;top:480.10px;width:250.00px;height:8.00px;line-height:8.00px;">Diese Menge wird alle 4 Stunden wiederholt, bis der Patient ausreichend schmerzfrei ist.  Danach erneut  20 Tropfen, wenn wieder</div>
<div class="t lv" style="left:463.90px;top:493.10px;width:250.00px;height:8.00px;line-height:8.00px;">Nach 3 Tagen wird die kumulative Tagesdosis errechnet und auf zwei Einzelgaben morgens und abends verteilt.</div>
</div>
<div class="ly" style="transform:perspective(10000px) translate3d(0,0.25px,0.1px);">
<div class="t c fk" style="left:345.20px;top:103.10px;width:15.20px;height:8.00px;line-height:8.00px;font-weight:bold;color:#222;">5</div>
<div class="t c cell" style="left:141.70px;top:112.10px;width:19.50px;height:8.00px;line-height:8.00px;">150</div>
<div class="t c cell" style="left:161.20px;top:112.10px;width:18.40px;height:8.00px;line-height:8.00px;">300</div>
<div class="t c cell" style="left:179.60px;top:112.10px;width:18.40px;height:8.00px;line-height:8.00px;">450</div>
<div class="t c cell" style="left:198.00px;top:112.10px;width:18.40px;height:8.00px;line-height:8.00px;">600</div>
<div class="t c fk" style="left:345.20px;top:120.10px;width:15.20px;height:8.00px;line-height:8.00px;font-weight:bold;color:#222;">4</div>
<div class="t lab" style="left:65.90px;top:137.10px;width:76.00px;height:8.00px;line-height:8.00px;">Oxycodon (oral)</div>
<div class="t lab" style="left:65.90px;top:154.10px;width:76.00px;height:8.00px;line-height:8.00px;">Hydromorphon (oral)</div>
<div class="t c cell" style="left:141.70px;top:155.10px;width:19.50px;height:8.00px;line-height:8.00px;">4</div>
<div class="t c cell" style="left:161.20px;top:155.10px;width:18.40px;height:8.00px;line-height:8.00px;">8</div>
<div class="t c cell" style="left:179.60px;top:155.10px;width:18.40px;height:8.00px;line-height:8.00px;">12</div>
<div class="t c cell" style="left:198.00px;top:155.10px;width:18.40px;height:8.00px;line-height:8.00px;">16</div>
<div class="t c cell" style="left:216.40px;top:155.10px;width:18.50px;height:8.00px;line-height:8.00px;">20</div>
<div class="t c cell" style="left:234.90px;top:155.10px;width:18.50px;height:8.00px;line-height:8.00px;">24</div>
<div class="t c cell" style="left:253.40px;top:155.10px;width:18.40px;height:8.00px;line-height:8.00px;">28</div>
<div class="t c cell" style="left:271.80px;top:155.10px;width:18.40px;height:8.00px;line-height:8.00px;">32</div>
<div class="t c cell" style="left:290.20px;top:155.10px;width:18.50px;height:8.00px;line-height:8.00px;">40</div>
<div class="t c cell" style="left:308.70px;top:155.10px;width:18.30px;height:8.00px;line-height:8.00px;">80</div>
<div class="t c cell" style="left:327.00px;top:155.10px;width:18.20px;height:8.00px;line-height:8.00px;">120</div>
<div class="t c cell" style="left:141.70px;top:172.10px;width:19.50px;height:8.00px;line-height:8.00px;">100</div>
<div class="t c cell" style="left:161.20px;top:172.10px;width:18.40px;height:8.00px;line-height:8.00px;">200</div>
<div class="t c cell" style="left:179.60px;top:172.10px;width:18.40px;height:8.00px;line-height:8.00px;">300</div>
<div class="t c cell" style="left:198.00px;top:172.10px;width:18.40px;height:8.00px;line-height:8.00px;">400</div>
<div class="t c cell" style="left:216.40px;top:172.10px;width:18.50px;height:8.00px;line-height:8.00px;">500</div>
<div class="t c fk" style="left:345.20px;top:180.10px;width:15.20px;height:8.00px;line-height:8.00px;">0,33</div>
<div class="t c fk" style="left:360.40px;top:180.10px;width:14.30px;height:8.00px;line-height:8.00px;color:#d8d048;">1</div>
<div class="t c fk" style="left:360.40px;top:197.10px;width:14.30px;height:8.00px;line-height:8.00px;">7,5</div>
<div class="t lab" style="left:65.90px;top:214.10px;width:76.00px;height:8.00px;line-height:8.00px;">Morphin (epidural)</div>
<div class="t lab" style="left:65.90px;top:231.10px;width:76.00px;height:8.00px;line-height:8.00px;">Fentanyl TTS (mg/24h)</div>
<div class="t c cell" style="left:141.70px;top:232.10px;width:19.50px;height:8.00px;line-height:8.00px;">0,3</div>
<div class="t c cell" style="left:161.20px;top:232.10px;width:18.40px;height:8.00px;line-height:8.00px;">0,6</div>
<div class="t c cell" style="left:179.60px;top:232.10px;width:18.40px;height:8.00px;line-height:8.00px;">-</div>
<div class="t c cell" style="left:198.00px;top:232.10px;width:18.40px;height:8.00px;line-height:8.00px;">1,2</div>
<div class="t c cell" style="left:216.40px;top:232.10px;width:18.50px;height:8.00px;line-height:8.00px;">-</div>
<div class="t c cell" style="left:234.90px;top:232.10px;width:18.50px;height:8.00px;line-height:8.00px;">1,8</div>
<div class="t c cell" style="left:253.40px;top:232.10px;width:18.40px;height:8.00px;line-height:8.00px;">-</div>
<div class="t c cell" style="left:271.80px;top:232.10px;width:18.40px;height:8.00px;line-height:8.00px;">2,4</div>
<div class="t c cell" style="left:290.20px;top:232.10px;width:18.50px;height:8.00px;line-height:8.00px;">3</div>
<div class="t c cell" style="left:308.70px;top:232.10px;width:18.30px;height:8.00px;line-height:8.00px;">-</div>
<div class="t c cell" style="left:327.00px;top:232.10px;width:18.20px;height:8.00px;line-height:8.00px;">9</div>
<div class="t rh" style="left:403.00px;top:35.10px;width:61.75px;height:8.00px;line-height:8.00px;">Medikament</div>
<div class="t c rh" style="left:459.15px;top:35.10px;width:62.60px;height:8.00px;line-height:8.00px;">Applikation</div>
<div class="t c rh" style="left:521.75px;top:35.10px;width:31.25px;height:8.00px;line-height:8.00px;">Anfangs</div>
<div class="t c rh" style="left:553.00px;top:35.10px;width:32.40px;height:8.00px;line-height:8.00px;">Intervall</div>
<div class="t c rh" style="left:585.40px;top:35.10px;width:123.70px;height:8.00px;line-height:8.00px;">Bemerkung</div>
<div class="t rs" style="left:464.10px;top:52.10px;width:58.60px;height:8.00px;line-height:8.00px;">oral</div>
<div class="t c rs" style="left:521.75px;top:52.10px;width:31.25px;height:8.00px;line-height:8.00px;">5,10</div>
<div class="t c rs" style="left:553.00px;top:52.10px;width:32.40px;height:8.00px;line-height:8.00px;">4</div>
<div class="t rs" style="left:464.10px;top:75.10px;width:58.60px;height:8.00px;line-height:8.00px;">rektal</div>
<div class="t c rs" style="left:521.75px;top:75.10px;width:31.25px;height:8.00px;line-height:8.00px;">20</div>
<div class="t c rs" style="left:553.00px;top:75.10px;width:32.40px;height:8.00px;line-height:8.00px;">4</div>
<div class="t rs" style="left:464.10px;top:98.10px;width:58.60px;height:8.00px;line-height:8.00px;">rektal</div>
<div class="t c rs" style="left:521.75px;top:98.10px;width:31.25px;height:8.00px;line-height:8.00px;">100</div>
<div class="t c rs" style="left:553.00px;top:98.10px;width:32.40px;height:8.00px;line-height:8.00px;">2..4</div>
<div class="t c rm" style="left:585.40px;top:95.10px;width:123.70px;height:8.00px;line-height:8.00px;">Wie bei Morphin.</div>
<div class="t rn" style="left:403.10px;top:108.10px;width:56.75px;height:8.00px;line-height:8.00px;">Tilidin / Naloxon</div>
<div class="t c rm" style="left:585.40px;top:105.10px;width:123.70px;height:8.00px;line-height:8.00px;">Wie bei Morphin. Kein langwirksamer Metabolit.</div>
<div class="t c rm" style="left:585.40px;top:112.10px;width:123.70px;height:8.00px;line-height:8.00px;">Günstig bei Niereninsuffizienz</div>
<div class="t rn" style="left:403.10px;top:121.10px;width:56.75px;height:8.00px;line-height:8.00px;">Oxycodon</div>
<div class="t c rs" style="left:459.15px;top:134.10px;width:62.60px;height:8.00px;line-height:8.00px;">oral</div>
<div class="t c rs" style="left:521.75px;top:134.10px;width:31.25px;height:8.00px;line-height:8.00px;">4</div>
<div class="t c rs" style="left:553.00px;top:134.10px;width:32.40px;height:8.00px;line-height:8.00px;">12</div>
<div class="t rs" style="left:464.10px;top:189.10px;width:58.60px;height:8.00px;line-height:8.00px;">i.m.</div>
<div class="t c rs" style="left:521.75px;top:189.10px;width:31.25px;height:8.00px;line-height:8.00px;">0,3</div>
<div class="t c rs" style="left:553.00px;top:189.10px;width:32.40px;height:8.00px;line-height:8.00px;">6..8</div>
<div class="t lv" style="left:463.90px;top:212.10px;width:250.00px;height:8.00px;line-height:8.00px;">Morphinpräparat und beginnt am nächsten Morgen mit  20 Tropfen (5 mg ) L-Polamidon.</div>
<div class="t c fk" style="left:345.20px;top:363.10px;width:15.20px;height:8.00px;line-height:8.00px;font-weight:bold;color:#222;">5</div>
<div class="t c cell" style="left:141.70px;top:372.10px;width:19.50px;height:8.00px;line-height:8.00px;">150</div>
<div class="t c cell" style="left:161.20px;top:372.10px;width:18.40px;height:8.00px;line-height:8.00px;">300</div>
<div class="t c cell" style="left:179.60px;top:372.10px;width:18.40px;height:8.00px;line-height:8.00px;">450</div>
<div class="t c cell" style="left:198.00px;top:372.10px;width:18.40px;height:8.00px;line-height:8.00px;">600</div>
<div class="t c fk" style="left:345.20px;top:380.10px;width:15.20px;height:8.00px;line-height:8.00px;font-weight:bold;color:#222;">4</div>
<div class="t lab" style="left:65.90px;top:397.10px;width:76.00px;height:8.00px;line-height:8.00px;">Oxycodon (oral)</div>
<div class="t lab" style="left:65.90px;top:414.10px;width:76.00px;height:8.00px;line-height:8.00px;">Hydromorphon (oral)</div>
<div class="t c cell" style="left:141.70px;top:415.10px;width:19.50px;height:8.00px;line-height:8.00px;">4</div>
<div class="t c cell" style="left:161.20px;top:415.10px;width:18.40px;height:8.00px;line-height:8.00px;">8</div>
<div class="t c cell" style="left:179.60px;top:415.10px;width:18.40px;height:8.00px;line-height:8.00px;">12</div>
<div class="t c cell" style="left:198.00px;top:415.10px;width:18.40px;height:8.00px;line-height:8.00px;">16</div>
<div class="t c cell" style="left:216.40px;top:415.10px;width:18.50px;height:8.00px;line-height:8.00px;">20</div>
<div class="t c cell" style="left:234.90px;top:415.10px;width:18.50px;height:8.00px;line-height:8.00px;">24</div>
<div class="t c cell" style="left:253.40px;top:415.10px;width:18.40px;height:8.00px;line-height:8.00px;">28</div>
<div class="t c cell" style="left:271.80px;top:415.10px;width:18.40px;height:8.00px;line-height:8.00px;">32</div>
<div class="t c cell" style="left:290.20px;top:415.10px;width:18.50px;height:8.00px;line-height:8.00px;">40</div>
<div class="t c cell" style="left:308.70px;top:415.10px;width:18.30px;height:8.00px;line-height:8.00px;">80</div>
<div class="t c cell" style="left:327.00px;top:415.10px;width:18.20px;height:8.00px;line-height:8.00px;">120</div>
<div class="t c cell" style="left:141.70px;top:432.10px;width:19.50px;height:8.00px;line-height:8.00px;">100</div>
<div class="t c cell" style="left:161.20px;top:432.10px;width:18.40px;height:8.00px;line-height:8.00px;">200</div>
<div class="t c cell" style="left:179.60px;top:432.10px;width:18.40px;height:8.00px;line-height:8.00px;">300</div>
<div class="t c cell" style="left:198.00px;top:432.10px;width:18.40px;height:8.00px;line-height:8.00px;">400</div>
<div class="t c cell" style="left:216.40px;top:432.10px;width:18.50px;height:8.00px;line-height:8.00px;">500</div>
<div class="t c fk" style="left:345.20px;top:440.10px;width:15.20px;height:8.00px;line-height:8.00px;">0,33</div>
<div class="t c fk" style="left:360.40px;top:440.10px;width:14.30px;height:8.00px;line-height:8.00px;color:#d8d048;">1</div>
<div class="t c fk" style="left:360.40px;top:457.10px;width:14.30px;height:8.00px;line-height:8.00px;">7,5</div>
<div class="t lab" style="left:65.90px;top:474.10px;width:76.00px;height:8.00px;line-height:8.00px;">Morphin (epidural)</div>
<div class="t lab" style="left:65.90px;top:491.10px;width:76.00px;height:8.00px;line-height:8.00px;">Fentanyl TTS (mg/24h)</div>
<div class="t c cell" style="left:141.70px;top:492.10px;width:19.50px;height:8.00px;line-height:8.00px;">0,3</div>
<div class="t c cell" style="left:161.20px;top:492.10px;width:18.40px;height:8.00px;line-height:8.00px;">0,6</div>
<div class="t c cell" style="left:179.60px;top:492.10px;width:18.40px;height:8.00px;line-height:8.00px;">-</div>
<div class="t c cell" style="left:198.00px;top:492.10px;width:18.40px;height:8.00px;line-height:8.00px;">1,2</div>
<div class="t c cell" style="left:216.40px;top:492.10px;width:18.50px;height:8.00px;line-height:8.00px;">-</div>
<div class="t c cell" style="left:234.90px;top:492.10px;width:18.50px;height:8.00px;line-height:8.00px;">1,8</div>
<div class="t c cell" style="left:253.40px;top:492.10px;width:18.40px;height:8.00px;line-height:8.00px;">-</div>
<div class="t c cell" style="left:271.80px;top:492.10px;width:18.40px;height:8.00px;line-height:8.00px;">2,4</div>
<div class="t c cell" style="left:290.20px;top:492.10px;width:18.50px;height:8.00px;line-height:8.00px;">3</div>
<div class="t c cell" style="left:308.70px;top:492.10px;width:18.30px;height:8.00px;line-height:8.00px;">-</div>
<div class="t c cell" style="left:327.00px;top:492.10px;width:18.20px;height:8.00px;line-height:8.00px;">9</div>
<div class="t rs" style="left:464.10px;top:312.10px;width:58.60px;height:8.00px;line-height:8.00px;">oral</div>
<div class="t c rs" style="left:521.75px;top:312.10px;width:31.25px;height:8.00px;line-height:8.00px;">5,10</div>
<div class="t c rs" style="left:553.00px;top:312.10px;width:32.40px;height:8.00px;line-height:8.00px;">4</div>
<div class="t rs" style="left:464.10px;top:335.10px;width:58.60px;height:8.00px;line-height:8.00px;">rektal</div>
<div class="t c rs" style="left:521.75px;top:335.10px;width:31.25px;height:8.00px;line-height:8.00px;">20</div>
<div class="t c rs" style="left:553.00px;top:335.10px;width:32.40px;height:8.00px;line-height:8.00px;">4</div>
<div class="t rn" style="left:403.10px;top:354.10px;width:56.75px;height:8.00px;line-height:8.00px;">Tramadol</div>
<div class="t rs" style="left:464.10px;top:358.10px;width:58.60px;height:8.00px;line-height:8.00px;">rektal</div>
<div class="t c rs" style="left:521.75px;top:358.10px;width:31.25px;height:8.00px;line-height:8.00px;">100</div>
<div class="t c rs" style="left:553.00px;top:358.10px;width:32.40px;height:8.00px;line-height:8.00px;">2..4</div>
<div class="t c rm" style="left:585.40px;top:355.10px;width:123.70px;height:8.00px;line-height:8.00px;">Wie bei Morphin.</div>
<div class="t rn" style="left:403.10px;top:368.10px;width:56.75px;height:8.00px;line-height:8.00px;">Tilidin / Naloxon</div>
<div class="t c rm" style="left:585.40px;top:365.10px;width:123.70px;height:8.00px;line-height:8.00px;">Wie bei Morphin. Kein langwirksamer Metabolit.</div>
<div class="t c rm" style="left:585.40px;top:372.10px;width:123.70px;height:8.00px;line-height:8.00px;">Günstig bei Niereninsuffizienz</div>
<div class="t rs" style="left:464.10px;top:438.10px;width:58.60px;height:8.00px;line-height:8.00px;">epidural</div>
<div class="t c rs" style="left:521.75px;top:438.10px;width:31.25px;height:8.00px;line-height:8.00px;">50..100</div>
<div class="t c rs" style="left:553.00px;top:438.10px;width:32.40px;height:8.00px;line-height:8.00px;">7</div>
<div class="t rn" style="left:403.10px;top:451.10px;width:56.75px;height:8.00px;line-height:8.00px;">Buprenorphin</div>
<div class="t rs" style="left:464.10px;top:449.10px;width:58.60px;height:8.00px;line-height:8.00px;">i.m.</div>
<div class="t c rs" style="left:521.75px;top:449.10px;width:31.25px;height:8.00px;line-height:8.00px;">0,3</div>
<div class="t c rs" style="left:553.00px;top:449.10px;width:32.40px;height:8.00px;line-height:8.00px;">6..8</div>
<div class="t lv" style="left:463.90px;top:466.10px;width:250.00px;height:8.00px;line-height:8.00px;">Ein Patient, der mindestens eine orale Tagesdosis von 200 mg retardiertem Morphin hatte, nimmt abends sein letztes</div>
</div>
<div class="ly" style="transform:perspective(10000px) translate3d(0,0.5px,0.1px);">
<div class="t title" style="left:56.50px;top:37.10px;width:322.00px;height:26.28px;line-height:26.28px;">Opioid- Umrechnungstabelle</div>
<div class="t lab" style="left:65.90px;top:111.10px;width:76.00px;height:8.00px;line-height:8.00px;">Tilidin / Naloxon (oral)</div>
<div class="t lab" style="left:65.90px;top:128.10px;width:76.00px;height:8.00px;line-height:8.00px;">Morphin (oral/ rektal)</div>
<div class="t c cell" style="left:141.70px;top:129.10px;width:19.50px;height:8.00px;line-height:8.00px;">30</div>
<div class="t c cell" style="left:161.20px;top:129.10px;width:18.40px;height:8.00px;line-height:8.00px;">60</div>
<div class="t c cell" style="left:179.60px;top:129.10px;width:18.40px;height:8.00px;line-height:8.00px;">90</div>
<div class="t c cell" style="left:198.00px;top:129.10px;width:18.40px;height:8.00px;line-height:8.00px;">120</div>
<div class="t c cell" style="left:216.40px;top:129.10px;width:18.50px;height:8.00px;line-height:8.00px;">150</div>
<div class="t c cell" style="left:234.90px;top:129.10px;width:18.50px;height:8.00px;line-height:8.00px;">180</div>
<div class="t c cell" style="left:253.40px;top:129.10px;width:18.40px;height:8.00px;line-height:8.00px;">210</div>
<div class="t c cell" style="left:271.80px;top:129.10px;width:18.40px;height:8.00px;line-height:8.00px;">240</div>
<div class="t c cell" style="left:290.20px;top:129.10px;width:18.50px;height:8.00px;line-height:8.00px;">300</div>
<div class="t c cell" style="left:308.70px;top:129.10px;width:18.30px;height:8.00px;line-height:8.00px;">600</div>
<div class="t c cell" style="left:327.00px;top:129.10px;width:18.20px;height:8.00px;line-height:8.00px;">900</div>
<div class="t c fk" style="left:345.20px;top:137.10px;width:15.20px;height:8.00px;line-height:8.00px;">0,65</div>
<div class="t c cell" style="left:141.70px;top:146.10px;width:19.50px;height:8.00px;line-height:8.00px;">7,5</div>
<div class="t c fk" style="left:345.20px;top:154.10px;width:15.20px;height:8.00px;line-height:8.00px;">0,13</div>
<div class="t lab" style="left:65.90px;top:171.10px;width:76.00px;height:8.00px;line-height:8.00px;">Tramadol (s.c. / i.m. / i.v.)</div>
<div class="t c fk" style="left:360.40px;top:171.10px;width:14.30px;height:8.00px;line-height:8.00px;">10</div>
<div class="t lab" style="left:65.90px;top:188.10px;width:76.00px;height:8.00px;line-height:8.00px;">Piritramid (i.v.)</div>
<div class="t c cell" style="left:141.70px;top:189.10px;width:19.50px;height:8.00px;line-height:8.00px;">15</div>
<div class="t c cell" style="left:161.20px;top:189.10px;width:18.40px;height:8.00px;line-height:8.00px;">30</div>
<div class="t c cell" style="left:179.60px;top:189.10px;width:18.40px;height:8.00px;line-height:8.00px;">45</div>
<div class="t c cell" style="left:198.00px;top:189.10px;width:18.40px;height:8.00px;line-height:8.00px;">60</div>
<div class="t c cell" style="left:141.70px;top:206.10px;width:19.50px;height:8.00px;line-height:8.00px;">0,3</div>
<div class="t c cell" style="left:161.20px;top:206.10px;width:18.40px;height:8.00px;line-height:8.00px;">0,6</div>
<div class="t c cell" style="left:179.60px;top:206.10px;width:18.40px;height:8.00px;line-height:8.00px;">0,9</div>
<div class="t c cell" style="left:198.00px;top:206.10px;width:18.40px;height:8.00px;line-height:8.00px;">1,2</div>
<div class="t c cell" style="left:216.40px;top:206.10px;width:18.50px;height:8.00px;line-height:8.00px;">1,5</div>
<div class="t c cell" style="left:234.90px;top:206.10px;width:18.50px;height:8.00px;line-height:8.00px;">1,8</div>
<div class="t c cell" style="left:253.40px;top:206.10px;width:18.40px;height:8.00px;line-height:8.00px;">2,1</div>
<div class="t c cell" style="left:271.80px;top:206.10px;width:18.40px;height:8.00px;line-height:8.00px;">2,4</div>
<div class="t c cell" style="left:290.20px;top:206.10px;width:18.50px;height:8.00px;line-height:8.00px;">3</div>
<div class="t c fk" style="left:345.20px;top:214.10px;width:15.20px;height:8.00px;line-height:8.00px;">0,08</div>
<div class="t c fk" style="left:360.40px;top:214.10px;width:14.30px;height:8.00px;line-height:8.00px;">0,25</div>
<div class="t c fk" style="left:345.20px;top:231.10px;width:15.20px;height:8.00px;line-height:8.00px;">0,01</div>
<div class="t c fk" style="left:360.40px;top:231.10px;width:14.30px;height:8.00px;line-height:8.00px;">0,03</div>
<div class="t rs" style="left:464.10px;top:69.10px;width:58.60px;height:8.00px;line-height:8.00px;">i.v. [PCA]</div>
<div class="t c rs" style="left:521.75px;top:69.10px;width:31.25px;height:8.00px;line-height:8.00px;">2</div>
<div class="t c rs" style="left:553.00px;top:69.10px;width:32.40px;height:8.00px;line-height:8.00px;">15 min</div>
<div class="t c rs" style="left:459.15px;top:108.10px;width:62.60px;height:8.00px;line-height:8.00px;">oral</div>
<div class="t c rs" style="left:521.75px;top:108.10px;width:31.25px;height:8.00px;line-height:8.00px;">50..100</div>
<div class="t c rs" style="left:553.00px;top:108.10px;width:32.40px;height:8.00px;line-height:8.00px;">2..4</div>
<div class="t c rs" style="left:459.15px;top:122.10px;width:62.60px;height:8.00px;line-height:8.00px;">oral</div>
<div class="t c rs" style="left:521.75px;top:122.10px;width:31.25px;height:8.00px;line-height:8.00px;">10</div>
<div class="t c rs" style="left:553.00px;top:122.10px;width:32.40px;height:8.00px;line-height:8.00px;">12</div>
<div class="t c rm" style="left:585.40px;top:125.10px;width:123.70px;height:8.00px;line-height:8.00px;">Angeblich weniger Übelkeit. Kein langwirksamer Metabolit.</div>
<div class="t c rm" style="left:585.40px;top:132.10px;width:123.70px;height:8.00px;line-height:8.00px;">Günstig bei Niereninsuffizienz</div>
<div class="t rn" style="left:403.10px;top:133.10px;width:56.75px;height:8.00px;line-height:8.00px;">Hydromorphon</div>
<div class="t rn" style="left:403.10px;top:147.10px;width:56.75px;height:8.00px;line-height:8.00px;">Piritramid</div>
<div class="t rs" style="left:464.10px;top:172.10px;width:58.60px;height:8.00px;line-height:8.00px;">i.v. [PCA]</div>
<div class="t c rs" style="left:521.75px;top:172.10px;width:31.25px;height:8.00px;line-height:8.00px;">10</div>
<div class="t c rs" style="left:553.00px;top:172.10px;width:32.40px;height:8.00px;line-height:8.00px;">10 min</div>
<div class="t rs" style="left:464.10px;top:194.10px;width:58.60px;height:8.00px;line-height:8.00px;">i.v. [PCA]</div>
<div class="t c rs" style="left:521.75px;top:194.10px;width:31.25px;height:8.00px;line-height:8.00px;">0,04</div>
<div class="t c rs" style="left:553.00px;top:194.10px;width:32.40px;height:8.00px;line-height:8.00px;">15 min</div>
<div class="t lv" style="left:463.90px;top:239.10px;width:250.00px;height:8.00px;line-height:8.00px;">Bei Schmerzdurchbruch Zusatzmenge wiederum 5 mg, Intervall 4 Stunden.</div>
<div class="t cp" style="left:599.25px;top:246.10px;width:105.00px;height:8.00px;line-height:8.00px;">© E.Gumpf / M.R.Hann, München</div>
<div class="t title" style="left:56.50px;top:297.10px;width:322.00px;height:26.28px;line-height:26.28px;">Opioid- Umrechnungstabelle</div>
<div class="t lab" style="left:65.90px;top:371.10px;width:76.00px;height:8.00px;line-height:8.00px;">Tilidin / Naloxon (oral)</div>
<div class="t lab" style="left:65.90px;top:388.10px;width:76.00px;height:8.00px;line-height:8.00px;">Morphin (oral/ rektal)</div>
<div class="t c cell" style="left:141.70px;top:389.10px;width:19.50px;height:8.00px;line-height:8.00px;">30</div>
<div class="t c cell" style="left:161.20px;top:389.10px;width:18.40px;height:8.00px;line-height:8.00px;">60</div>
<div class="t c cell" style="left:179.60px;top:389.10px;width:18.40px;height:8.00px;line-height:8.00px;">90</div>
<div class="t c cell" style="left:198.00px;top:389.10px;width:18.40px;height:8.00px;line-height:8.00px;">120</div>
<div class="t c cell" style="left:216.40px;top:389.10px;width:18.50px;height:8.00px;line-height:8.00px;">150</div>
<div class="t c cell" style="left:234.90px;top:389.10px;width:18.50px;height:8.00px;line-height:8.00px;">180</div>
<div class="t c cell" style="left:253.40px;top:389.10px;width:18.40px;height:8.00px;line-height:8.00px;">210</div>
<div class="t c cell" style="left:271.80px;top:389.10px;width:18.40px;height:8.00px;line-height:8.00px;">240</div>
<div class="t c cell" style="left:290.20px;top:389.10px;width:18.50px;height:8.00px;line-height:8.00px;">300</div>
<div class="t c cell" style="left:308.70px;top:389.10px;width:18.30px;height:8.00px;line-height:8.00px;">600</div>
<div class="t c cell" style="left:327.00px;top:389.10px;width:18.20px;height:8.00px;line-height:8.00px;">900</div>
<div class="t c fk" style="left:345.20px;top:397.10px;width:15.20px;height:8.00px;line-height:8.00px;">0,65</div>
<div class="t c cell" style="left:141.70px;top:406.10px;width:19.50px;height:8.00px;line-height:8.00px;">7,5</div>
<div class="t c fk" style="left:345.20px;top:414.10px;width:15.20px;height:8.00px;line-height:8.00px;">0,13</div>
<div class="t lab" style="left:65.90px;top:431.10px;width:76.00px;height:8.00px;line-height:8.00px;">Tramadol (s.c. / i.m. / i.v.)</div>
<div class="t c fk" style="left:360.40px;top:431.10px;width:14.30px;height:8.00px;line-height:8.00px;">10</div>
<div class="t lab" style="left:65.90px;top:448.10px;width:76.00px;height:8.00px;line-height:8.00px;">Piritramid (i.v.)</div>
<div class="t c cell" style="left:141.70px;top:449.10px;width:19.50px;height:8.00px;line-height:8.00px;">15</div>
<div class="t c cell" style="left:161.20px;top:449.10px;width:18.40px;height:8.00px;line-height:8.00px;">30</div>
<div class="t c cell" style="left:179.60px;top:449.10px;width:18.40px;height:8.00px;line-height:8.00px;">45</div>
<div class="t c cell" style="left:198.00px;top:449.10px;width:18.40px;height:8.00px;line-height:8.00px;">60</div>
<div class="t c cell" style="left:141.70px;top:466.10px;width:19.50px;height:8.00px;line-height:8.00px;">0,3</div>
<div class="t c cell" style="left:161.20px;top:466.10px;width:18.40px;height:8.00px;line-height:8.00px;">0,6</div>
<div class="t c cell" style="left:179.60px;top:466.10px;width:18.40px;height:8.00px;line-height:8.00px;">0,9</div>
<div class="t c cell" style="left:198.00px;top:466.10px;width:18.40px;height:8.00px;line-height:8.00px;">1,2</div>
<div class="t c cell" style="left:216.40px;top:466.10px;width:18.50px;height:8.00px;line-height:8.00px;">1,5</div>
<div class="t c cell" style="left:234.90px;top:466.10px;width:18.50px;height:8.00px;line-height:8.00px;">1,8</div>
<div class="t c cell" style="left:253.40px;top:466.10px;width:18.40px;height:8.00px;line-height:8.00px;">2,1</div>
<div class="t c cell" style="left:271.80px;top:466.10px;width:18.40px;height:8.00px;line-height:8.00px;">2,4</div>
<div class="t c cell" style="left:290.20px;top:466.10px;width:18.50px;height:8.00px;line-height:8.00px;">3</div>
<div class="t c fk" style="left:345.20px;top:474.10px;width:15.20px;height:8.00px;line-height:8.00px;">0,08</div>
<div class="t c fk" style="left:360.40px;top:474.10px;width:14.30px;height:8.00px;line-height:8.00px;">0,25</div>
<div class="t c fk" style="left:345.20px;top:491.10px;width:15.20px;height:8.00px;line-height:8.00px;">0,01</div>
<div class="t c fk" style="left:360.40px;top:491.10px;width:14.30px;height:8.00px;line-height:8.00px;">0,03</div>
<div class="t rh" style="left:403.00px;top:295.10px;width:61.75px;height:8.00px;line-height:8.00px;">Medikament</div>
<div class="t c rh" style="left:459.15px;top:295.10px;width:62.60px;height:8.00px;line-height:8.00px;">Applikation</div>
<div class="t c rh" style="left:521.75px;top:295.10px;width:31.25px;height:8.00px;line-height:8.00px;">Anfangs</div>
<div class="t c rh" style="left:553.00px;top:295.10px;width:32.40px;height:8.00px;line-height:8.00px;">Intervall</div>
<div class="t c rh" style="left:585.40px;top:295.10px;width:123.70px;height:8.00px;line-height:8.00px;">Bemerkung</div>
<div class="t rs" style="left:464.10px;top:329.10px;width:58.60px;height:8.00px;line-height:8.00px;">i.v. [PCA]</div>
<div class="t c rs" style="left:521.75px;top:329.10px;width:31.25px;height:8.00px;line-height:8.00px;">2</div>
<div class="t c rs" style="left:553.00px;top:329.10px;width:32.40px;height:8.00px;line-height:8.00px;">15 min</div>
<div class="t rn" style="left:403.10px;top:381.10px;width:56.75px;height:8.00px;line-height:8.00px;">Oxycodon</div>
<div class="t c rs" style="left:459.15px;top:382.10px;width:62.60px;height:8.00px;line-height:8.00px;">oral</div>
<div class="t c rs" style="left:521.75px;top:382.10px;width:31.25px;height:8.00px;line-height:8.00px;">10</div>
<div class="t c rs" style="left:553.00px;top:382.10px;width:32.40px;height:8.00px;line-height:8.00px;">12</div>
<div class="t c rm" style="left:585.40px;top:385.10px;width:123.70px;height:8.00px;line-height:8.00px;">Angeblich weniger Übelkeit. Kein langwirksamer Metabolit.</div>
<div class="t c rm" style="left:585.40px;top:392.10px;width:123.70px;height:8.00px;line-height:8.00px;">Günstig bei Niereninsuffizienz</div>
<div class="t c rs" style="left:459.15px;top:394.10px;width:62.60px;height:8.00px;line-height:8.00px;">oral</div>
<div class="t c rs" style="left:521.75px;top:394.10px;width:31.25px;height:8.00px;line-height:8.00px;">4</div>
<div class="t c rs" style="left:553.00px;top:394.10px;width:32.40px;height:8.00px;line-height:8.00px;">12</div>
<div class="t rn" style="left:403.10px;top:407.10px;width:56.75px;height:8.00px;line-height:8.00px;">Piritramid</div>
<div class="t rs" style="left:464.10px;top:432.10px;width:58.60px;height:8.00px;line-height:8.00px;">i.v. [PCA]</div>
<div class="t c rs" style="left:521.75px;top:432.10px;width:31.25px;height:8.00px;line-height:8.00px;">10</div>
<div class="t c rs" style="left:553.00px;top:432.10px;width:32.40px;height:8.00px;line-height:8.00px;">10 min</div>
<div class="t lv" style="left:463.90px;top:472.10px;width:250.00px;height:8.00px;line-height:8.00px;">Morphinpräparat und beginnt am nächsten Morgen mit  20 Tropfen (5 mg ) L-Polamidon.</div>
<div class="t lv" style="left:463.90px;top:499.10px;width:250.00px;height:8.00px;line-height:8.00px;">Bei Schmerzdurchbruch Zusatzmenge wiederum 5 mg, Intervall 4 Stunden.</div>
<div class="t cp" style="left:599.25px;top:506.10px;width:105.00px;height:8.00px;line-height:8.00px;">© E.Gumpf / M.R.Hann, München</div>
</div>
<div class="ly" style="transform:perspective(10000px) translate3d(0,0.75px,0.1px);">
<div class="t c it" style="left:161.20px;top:145.10px;width:184.00px;height:8.00px;line-height:8.00px;">Intraindividuelle Titration</div>
<div class="t c cell" style="left:141.70px;top:103.10px;width:19.50px;height:8.00px;line-height:8.00px;">150</div>
<div class="t c cell" style="left:161.20px;top:103.10px;width:18.40px;height:8.00px;line-height:8.00px;">300</div>
<div class="t c cell" style="left:179.60px;top:103.10px;width:18.40px;height:8.00px;line-height:8.00px;">450</div>
<div class="t c cell" style="left:198.00px;top:103.10px;width:18.40px;height:8.00px;line-height:8.00px;">600</div>
<div class="t c fk" style="left:345.20px;top:111.10px;width:15.20px;height:8.00px;line-height:8.00px;font-weight:bold;color:#222;">5</div>
<div class="t c fk" style="left:345.20px;top:128.10px;width:15.20px;height:8.00px;line-height:8.00px;color:#d8d048;">1</div>
<div class="t c fk" style="left:360.40px;top:128.10px;width:14.30px;height:8.00px;line-height:8.00px;">3</div>
<div class="t lab" style="left:65.90px;top:145.10px;width:76.00px;height:8.00px;line-height:8.00px;">L-Methadon (oral)</div>
<div class="t lab" style="left:65.90px;top:162.10px;width:76.00px;height:8.00px;line-height:8.00px;">Buprenorphin (s.l.)</div>
<div class="t c cell" style="left:141.70px;top:163.10px;width:19.50px;height:8.00px;line-height:8.00px;">0,4</div>
<div class="t c cell" style="left:161.20px;top:163.10px;width:18.40px;height:8.00px;line-height:8.00px;">0,8</div>
<div class="t c cell" style="left:179.60px;top:163.10px;width:18.40px;height:8.00px;line-height:8.00px;">1,2</div>
<div class="t c cell" style="left:198.00px;top:163.10px;width:18.40px;height:8.00px;line-height:8.00px;">1,6</div>
<div class="t c cell" style="left:216.40px;top:163.10px;width:18.50px;height:8.00px;line-height:8.00px;">2,0</div>
<div class="t c cell" style="left:234.90px;top:163.10px;width:18.50px;height:8.00px;line-height:8.00px;">2,4</div>
<div class="t c cell" style="left:253.40px;top:163.10px;width:18.40px;height:8.00px;line-height:8.00px;">2,8</div>
<div class="t c cell" style="left:271.80px;top:163.10px;width:18.40px;height:8.00px;line-height:8.00px;">3,2</div>
<div class="t c cell" style="left:290.20px;top:163.10px;width:18.50px;height:8.00px;line-height:8.00px;">3,2</div>
<div class="t c cell" style="left:308.70px;top:163.10px;width:18.30px;height:8.00px;line-height:8.00px;">3,6</div>
<div class="t c cell" style="left:327.00px;top:163.10px;width:18.20px;height:8.00px;line-height:8.00px;">4,0</div>
<div class="t c cell" style="left:141.70px;top:180.10px;width:19.50px;height:8.00px;line-height:8.00px;color:#f4ec20;">10</div>
<div class="t c cell" style="left:161.20px;top:180.10px;width:18.40px;height:8.00px;line-height:8.00px;color:#f4ec20;">20</div>
<div class="t c cell" style="left:179.60px;top:180.10px;width:18.40px;height:8.00px;line-height:8.00px;color:#f4ec20;">30</div>
<div class="t c cell" style="left:198.00px;top:180.10px;width:18.40px;height:8.00px;line-height:8.00px;color:#f4ec20;">40</div>
<div class="t c cell" style="left:216.40px;top:180.10px;width:18.50px;height:8.00px;line-height:8.00px;color:#f4ec20;">50</div>
<div class="t c cell" style="left:234.90px;top:180.10px;width:18.50px;height:8.00px;line-height:8.00px;color:#f4ec20;">60</div>
<div class="t c cell" style="left:253.40px;top:180.10px;width:18.40px;height:8.00px;line-height:8.00px;color:#f4ec20;">70</div>
<div class="t c cell" style="left:271.80px;top:180.10px;width:18.40px;height:8.00px;line-height:8.00px;color:#f4ec20;">80</div>
<div class="t c cell" style="left:290.20px;top:180.10px;width:18.50px;height:8.00px;line-height:8.00px;color:#f4ec20;">100</div>
<div class="t c cell" style="left:308.70px;top:180.10px;width:18.30px;height:8.00px;line-height:8.00px;color:#f4ec20;">200</div>
<div class="t c cell" style="left:327.00px;top:180.10px;width:18.20px;height:8.00px;line-height:8.00px;color:#f4ec20;">300</div>
<div class="t c fk" style="left:360.40px;top:188.10px;width:14.30px;height:8.00px;line-height:8.00px;">1,5</div>
<div class="t lab" style="left:65.90px;top:205.10px;width:76.00px;height:8.00px;line-height:8.00px;">Buprenorphin (s.c./ i.m./i.v.)</div>
<div class="t c fk" style="left:360.40px;top:205.10px;width:14.30px;height:8.00px;line-height:8.00px;">0,03</div>
<div class="t lab" style="left:65.90px;top:222.10px;width:76.00px;height:8.00px;line-height:8.00px;">Morphin (intraspinal)</div>
<div class="t c cell" style="left:141.70px;top:223.10px;width:19.50px;height:8.00px;line-height:8.00px;">0,25</div>
<div class="t c cell" style="left:161.20px;top:223.10px;width:18.40px;height:8.00px;line-height:8.00px;">0,5</div>
<div class="t c cell" style="left:179.60px;top:223.10px;width:18.40px;height:8.00px;line-height:8.00px;">0,75</div>
<div class="t c cell" style="left:198.00px;top:223.10px;width:18.40px;height:8.00px;line-height:8.00px;">1</div>
<div class="t c cell" style="left:216.40px;top:223.10px;width:18.50px;height:8.00px;line-height:8.00px;">1,25</div>
<div class="t c cell" style="left:234.90px;top:223.10px;width:18.50px;height:8.00px;line-height:8.00px;">1,5</div>
<div class="t c cell" style="left:253.40px;top:223.10px;width:18.40px;height:8.00px;line-height:8.00px;">1,75</div>
<div class="t c cell" style="left:271.80px;top:223.10px;width:18.40px;height:8.00px;line-height:8.00px;">2</div>
<div class="t c cell" style="left:290.20px;top:223.10px;width:18.50px;height:8.00px;line-height:8.00px;">2,5</div>
<div class="t c cell" style="left:308.70px;top:223.10px;width:18.30px;height:8.00px;line-height:8.00px;">5</div>
<div class="t c cell" style="left:327.00px;top:223.10px;width:18.20px;height:8.00px;line-height:8.00px;">7,5</div>
<div class="t lab" style="left:65.90px;top:239.10px;width:76.00px;height:8.00px;line-height:8.00px;">Fentanyl TTS (µg/h)</div>
<div class="t c cell" style="left:141.70px;top:240.10px;width:19.50px;height:8.00px;line-height:8.00px;">-</div>
<div class="t c cell" style="left:161.20px;top:240.10px;width:18.40px;height:8.00px;line-height:8.00px;">25</div>
<div class="t c cell" style="left:179.60px;top:240.10px;width:18.40px;height:8.00px;line-height:8.00px;">-</div>
<div class="t c cell" style="left:198.00px;top:240.10px;width:18.40px;height:8.00px;line-height:8.00px;">50</div>
<div class="t c cell" style="left:216.40px;top:240.10px;width:18.50px;height:8.00px;line-height:8.00px;">-</div>
<div class="t c cell" style="left:234.90px;top:240.10px;width:18.50px;height:8.00px;line-height:8.00px;">75</div>
<div class="t c cell" style="left:253.40px;top:240.10px;width:18.40px;height:8.00px;line-height:8.00px;">-</div>
<div class="t c cell" style="left:271.80px;top:240.10px;width:18.40px;height:8.00px;line-height:8.00px;">100</div>
<div class="t c cell" style="left:290.20px;top:240.10px;width:18.50px;height:8.00px;line-height:8.00px;">125</div>
<div class="t c cell" style="left:308.70px;top:240.10px;width:18.30px;height:8.00px;line-height:8.00px;">-</div>
<div class="t c cell" style="left:327.00px;top:240.10px;width:18.20px;height:8.00px;line-height:8.00px;">375</div>
<div class="t rs" style="left:464.10px;top:63.10px;width:58.60px;height:8.00px;line-height:8.00px;">i.m./s.c.</div>
<div class="t c rs" style="left:521.75px;top:63.10px;width:31.25px;height:8.00px;line-height:8.00px;">10</div>
<div class="t c rs" style="left:553.00px;top:63.10px;width:32.40px;height:8.00px;line-height:8.00px;">4</div>
<div class="t rs" style="left:464.10px;top:86.10px;width:58.60px;height:8.00px;line-height:8.00px;">intrathekal</div>
<div class="t c rs" style="left:521.75px;top:86.10px;width:31.25px;height:8.00px;line-height:8.00px;">0,3..0,5</div>
<div class="t c rs" style="left:553.00px;top:86.10px;width:32.40px;height:8.00px;line-height:8.00px;">12</div>
<div class="t c rm" style="left:585.40px;top:63.10px;width:123.70px;height:8.00px;line-height:8.00px;">Obstipation,  Miktionsstörung,  Übelkeit, Erbrechen.</div>
<div class="t c rm" style="left:585.40px;top:70.10px;width:123.70px;height:8.00px;line-height:8.00px;">Ergänzung   mit Laxantien   (z.B. Bifiteral 3x 1 EL)</div>
<div class="t rs" style="left:464.10px;top:92.10px;width:58.60px;height:8.00px;line-height:8.00px;">oral (Retardform)</div>
<div class="t c rs" style="left:521.75px;top:92.10px;width:31.25px;height:8.00px;line-height:8.00px;">100</div>
<div class="t c rs" style="left:553.00px;top:92.10px;width:32.40px;height:8.00px;line-height:8.00px;">8..12</div>
<div class="t rs" style="left:464.10px;top:148.10px;width:58.60px;height:8.00px;line-height:8.00px;">i.v. [PCA]</div>
<div class="t c rs" style="left:521.75px;top:148.10px;width:31.25px;height:8.00px;line-height:8.00px;">1,5</div>
<div class="t c rs" style="left:553.00px;top:148.10px;width:32.40px;height:8.00px;line-height:8.00px;">5..10 min</div>
<div class="t rs" style="left:464.10px;top:154.10px;width:58.60px;height:8.00px;line-height:8.00px;">rektal</div>
<div class="t c rs" style="left:521.75px;top:154.10px;width:31.25px;height:8.00px;line-height:8.00px;">100</div>
<div class="t c rs" style="left:553.00px;top:154.10px;width:32.40px;height:8.00px;line-height:8.00px;">4..6</div>
<div class="t c rm" style="left:585.40px;top:147.10px;width:123.70px;height:8.00px;line-height:8.00px;">Wie bei Morphin. Nur parenterale Gabe möglich</div>
<div class="t rn" style="left:403.10px;top:167.10px;width:56.75px;height:8.00px;line-height:8.00px;">Pethidin</div>
<div class="t rs" style="left:464.10px;top:166.10px;width:58.60px;height:8.00px;line-height:8.00px;">i.m./s.c.</div>
<div class="t c rs" style="left:521.75px;top:166.10px;width:31.25px;height:8.00px;line-height:8.00px;">100</div>
<div class="t c rs" style="left:553.00px;top:166.10px;width:32.40px;height:8.00px;line-height:8.00px;">2..3</div>
<div class="t c rm" style="left:585.40px;top:164.10px;width:123.70px;height:8.00px;line-height:8.00px;">Wie bei Morphin. Nur parenterale Gabe möglich,</div>
<div class="t rs" style="left:464.10px;top:183.10px;width:58.60px;height:8.00px;line-height:8.00px;">sublingual</div>
<div class="t c rs" style="left:521.75px;top:183.10px;width:31.25px;height:8.00px;line-height:8.00px;">0,2..0,4</div>
<div class="t c rs" style="left:553.00px;top:183.10px;width:32.40px;height:8.00px;line-height:8.00px;">6..8</div>
<div class="t rn" style="left:403.10px;top:223.10px;width:56.75px;height:8.00px;line-height:8.00px;">Levomethadon</div>
<div class="t lv" style="left:463.90px;top:219.10px;width:250.00px;height:8.00px;line-height:8.00px;">Diese Menge wird alle 4 Stunden wiederholt, bis der Patient ausreichend schmerzfrei ist.  Danach erneut  20 Tropfen, wenn wieder</div>
<div class="t lv" style="left:463.90px;top:225.10px;width:250.00px;height:8.00px;line-height:8.00px;">Schmerzen auftreten. Auch danach vier Stunden Pause einhalten.</div>
<div class="t lv2" style="left:605.00px;top:239.10px;width:110.00px;height:8.00px;line-height:8.00px;">Anfangs täglicher Patientenkontakt (Tel.) nötig</div>
<div class="t c it" style="left:161.20px;top:405.10px;width:184.00px;height:8.00px;line-height:8.00px;">Intraindividuelle Titration</div>
<div class="t c cell" style="left:141.70px;top:363.10px;width:19.50px;height:8.00px;line-height:8.00px;">150</div>
<div class="t c cell" style="left:161.20px;top:363.10px;width:18.40px;height:8.00px;line-height:8.00px;">300</div>
<div class="t c cell" style="left:179.60px;top:363.10px;width:18.40px;height:8.00px;line-height:8.00px;">450</div>
<div class="t c cell" style="left:198.00px;top:363.10px;width:18.40px;height:8.00px;line-height:8.00px;">600</div>
<div class="t c fk" style="left:345.20px;top:371.10px;width:15.20px;height:8.00px;line-height:8.00px;font-weight:bold;color:#222;">5</div>
<div class="t c fk" style="left:345.20px;top:388.10px;width:15.20px;height:8.00px;line-height:8.00px;color:#d8d048;">1</div>
<div class="t c fk" style="left:360.40px;top:388.10px;width:14.30px;height:8.00px;line-height:8.00px;">3</div>
<div class="t lab" style="left:65.90px;top:405.10px;width:76.00px;height:8.00px;line-height:8.00px;">L-Methadon (oral)</div>
<div class="t lab" style="left:65.90px;top:422.10px;width:76.00px;height:8.00px;line-height:8.00px;">Buprenorphin (s.l.)</div>
<div class="t c cell" style="left:141.70px;top:423.10px;width:19.50px;height:8.00px;line-height:8.00px;">0,4</div>
<div class="t c cell" style="left:161.20px;top:423.10px;width:18.40px;height:8.00px;line-height:8.00px;">0,8</div>
<div class="t c cell" style="left:179.60px;top:423.10px;width:18.40px;height:8.00px;line-height:8.00px;">1,2</div>
<div class="t c cell" style="left:198.00px;top:423.10px;width:18.40px;height:8.00px;line-height:8.00px;">1,6</div>
<div class="t c cell" style="left:216.40px;top:423.10px;width:18.50px;height:8.00px;line-height:8.00px;">2,0</div>
<div class="t c cell" style="left:234.90px;top:423.10px;width:18.50px;height:8.00px;line-height:8.00px;">2,4</div>
<div class="t c cell" style="left:253.40px;top:423.10px;width:18.40px;height:8.00px;line-height:8.00px;">2,8</div>
<div class="t c cell" style="left:271.80px;top:423.10px;width:18.40px;height:8.00px;line-height:8.00px;">3,2</div>
<div class="t c cell" style="left:290.20px;top:423.10px;width:18.50px;height:8.00px;line-height:8.00px;">3,2</div>
<div class="t c cell" style="left:308.70px;top:423.10px;width:18.30px;height:8.00px;line-height:8.00px;">3,6</div>
<div class="t c cell" style="left:327.00px;top:423.10px;width:18.20px;height:8.00px;line-height:8.00px;">4,0</div>
<div class="t c cell" style="left:141.70px;top:440.10px;width:19.50px;height:8.00px;line-height:8.00px;color:#f4ec20;">10</div>
<div class="t c cell" style="left:161.20px;top:440.10px;width:18.40px;height:8.00px;line-height:8.00px;color:#f4ec20;">20</div>
<div class="t c cell" style="left:179.60px;top:440.10px;width:18.40px;height:8.00px;line-height:8.00px;color:#f4ec20;">30</div>
<div class="t c cell" style="left:198.00px;top:440.10px;width:18.40px;height:8.00px;line-height:8.00px;color:#f4ec20;">40</div>
<div class="t c cell" style="left:216.40px;top:440.10px;width:18.50px;height:8.00px;line-height:8.00px;color:#f4ec20;">50</div>
<div class="t c cell" style="left:234.90px;top:440.10px;width:18.50px;height:8.00px;line-height:8.00px;color:#f4ec20;">60</div>
<div class="t c cell" style="left:253.40px;top:440.10px;width:18.40px;height:8.00px;line-height:8.00px;color:#f4ec20;">70</div>
<div class="t c cell" style="left:271.80px;top:440.10px;width:18.40px;height:8.00px;line-height:8.00px;color:#f4ec20;">80</div>
<div class="t c cell" style="left:290.20px;top:440.10px;width:18.50px;height:8.00px;line-height:8.00px;color:#f4ec20;">100</div>
<div class="t c cell" style="left:308.70px;top:440.10px;width:18.30px;height:8.00px;line-height:8.00px;color:#f4ec20;">200</div>
<div class="t c cell" style="left:327.00px;top:440.10px;width:18.20px;height:8.00px;line-height:8.00px;color:#f4ec20;">300</div>
<div class="t c fk" style="left:360.40px;top:448.10px;width:14.30px;height:8.00px;line-height:8.00px;">1,5</div>
<div class="t lab" style="left:65.90px;top:465.10px;width:76.00px;height:8.00px;line-height:8.00px;">Buprenorphin (s.c./ i.m./i.v.)</div>
<div class="t c fk" style="left:360.40px;top:465.10px;width:14.30px;height:8.00px;line-height:8.00px;">0,03</div>
<div class="t lab" style="left:65.90px;top:482.10px;width:76.00px;height:8.00px;line-height:8.00px;">Morphin (intraspinal)</div>
<div class="t c cell" style="left:141.70px;top:483.10px;width:19.50px;height:8.00px;line-height:8.00px;">0,25</div>
<div class="t c cell" style="left:161.20px;top:483.10px;width:18.40px;height:8.00px;line-height:8.00px;">0,5</div>
<div class="t c cell" style="left:179.60px;top:483.10px;width:18.40px;height:8.00px;line-height:8.00px;">0,75</div>
<div class="t c cell" style="left:198.00px;top:483.10px;width:18.40px;height:8.00px;line-height:8.00px;">1</div>
<div class="t c cell" style="left:216.40px;top:483.10px;width:18.50px;height:8.00px;line-height:8.00px;">1,25</div>
<div class="t c cell" style="left:234.90px;top:483.10px;width:18.50px;height:8.00px;line-height:8.00px;">1,5</div>
<div class="t c cell" style="left:253.40px;top:483.10px;width:18.40px;height:8.00px;line-height:8.00px;">1,75</div>
<div class="t c cell" style="left:271.80px;top:483.10px;width:18.40px;height:8.00px;line-height:8.00px;">2</div>
<div class="t c cell" style="left:290.20px;top:483.10px;width:18.50px;height:8.00px;line-height:8.00px;">2,5</div>
<div class="t c cell" style="left:308.70px;top:483.10px;width:18.30px;height:8.00px;line-height:8.00px;">5</div>
<div class="t c cell" style="left:327.00px;top:483.10px;width:18.20px;height:8.00px;line-height:8.00px;">7,5</div>
<div class="t lab" style="left:65.90px;top:499.10px;width:76.00px;height:8.00px;line-height:8.00px;">Fentanyl TTS (µg/h)</div>
<div class="t c cell" style="left:141.70px;top:500.10px;width:19.50px;height:8.00px;line-height:8.00px;">-</div>
<div class="t c cell" style="left:161.20px;top:500.10px;width:18.40px;height:8.00px;line-height:8.00px;">25</div>
<div class="t c cell" style="left:179.60px;top:500.10px;width:18.40px;height:8.00px;line-height:8.00px;">-</div>
<div class="t c cell" style="left:198.00px;top:500.10px;width:18.40px;height:8.00px;line-height:8.00px;">50</div>
<div class="t c cell" style="left:216.40px;top:500.10px;width:18.50px;height:8.00px;line-height:8.00px;">-</div>
<div class="t c cell" style="left:234.90px;top:500.10px;width:18.50px;height:8.00px;line-height:8.00px;">75</div>
<div class="t c cell" style="left:253.40px;top:500.10px;width:18.40px;height:8.00px;line-height:8.00px;">-</div>
<div class="t c cell" style="left:271.80px;top:500.10px;width:18.40px;height:8.00px;line-height:8.00px;">100</div>
<div class="t c cell" style="left:290.20px;top:500.10px;width:18.50px;height:8.00px;line-height:8.00px;">125</div>
<div class="t c cell" style="left:308.70px;top:500.10px;width:18.30px;height:8.00px;line-height:8.00px;">-</div>
<div class="t c cell" style="left:327.00px;top:500.10px;width:18.20px;height:8.00px;line-height:8.00px;">375</div>
<div class="t rs" style="left:464.10px;top:323.10px;width:58.60px;height:8.00px;line-height:8.00px;">i.m./s.c.</div>
<div class="t c rs" style="left:521.75px;top:323.10px;width:31.25px;height:8.00px;line-height:8.00px;">10</div>
<div class="t c rs" style="left:553.00px;top:323.10px;width:32.40px;height:8.00px;line-height:8.00px;">4</div>
<div class="t rs" style="left:464.10px;top:346.10px;width:58.60px;height:8.00px;line-height:8.00px;">intrathekal</div>
<div class="t c rs" style="left:521.75px;top:346.10px;width:31.25px;height:8.00px;line-height:8.00px;">0,3..0,5</div>
<div class="t c rs" style="left:553.00px;top:346.10px;width:32.40px;height:8.00px;line-height:8.00px;">12</div>
<div class="t c rm" style="left:585.40px;top:330.10px;width:123.70px;height:8.00px;line-height:8.00px;">Ergänzung   mit Laxantien   (z.B. Bifiteral 3x 1 EL)</div>
<div class="t rs" style="left:464.10px;top:352.10px;width:58.60px;height:8.00px;line-height:8.00px;">oral (Retardform)</div>
<div class="t c rs" style="left:521.75px;top:352.10px;width:31.25px;height:8.00px;line-height:8.00px;">100</div>
<div class="t c rs" style="left:553.00px;top:352.10px;width:32.40px;height:8.00px;line-height:8.00px;">8..12</div>
<div class="t c rs" style="left:459.15px;top:368.10px;width:62.60px;height:8.00px;line-height:8.00px;">oral</div>
<div class="t c rs" style="left:521.75px;top:368.10px;width:31.25px;height:8.00px;line-height:8.00px;">50..100</div>
<div class="t c rs" style="left:553.00px;top:368.10px;width:32.40px;height:8.00px;line-height:8.00px;">2..4</div>
<div class="t rn" style="left:403.10px;top:393.10px;width:56.75px;height:8.00px;line-height:8.00px;">Hydromorphon</div>
<div class="t rs" style="left:464.10px;top:408.10px;width:58.60px;height:8.00px;line-height:8.00px;">i.v. [PCA]</div>
<div class="t c rs" style="left:521.75px;top:408.10px;width:31.25px;height:8.00px;line-height:8.00px;">1,5</div>
<div class="t c rs" style="left:553.00px;top:408.10px;width:32.40px;height:8.00px;line-height:8.00px;">5..10 min</div>
<div class="t c rm" style="left:585.40px;top:407.10px;width:123.70px;height:8.00px;line-height:8.00px;">Wie bei Morphin. Nur parenterale Gabe möglich</div>
<div class="t c rm" style="left:585.40px;top:424.10px;width:123.70px;height:8.00px;line-height:8.00px;">Wie bei Morphin. Nur parenterale Gabe möglich,</div>
<div class="t rs" style="left:464.10px;top:443.10px;width:58.60px;height:8.00px;line-height:8.00px;">sublingual</div>
<div class="t c rs" style="left:521.75px;top:443.10px;width:31.25px;height:8.00px;line-height:8.00px;">0,2..0,4</div>
<div class="t c rs" style="left:553.00px;top:443.10px;width:32.40px;height:8.00px;line-height:8.00px;">6..8</div>
<div class="t rs" style="left:464.10px;top:454.10px;width:58.60px;height:8.00px;line-height:8.00px;">i.v. [PCA]</div>
<div class="t c rs" style="left:521.75px;top:454.10px;width:31.25px;height:8.00px;line-height:8.00px;">0,04</div>
<div class="t c rs" style="left:553.00px;top:454.10px;width:32.40px;height:8.00px;line-height:8.00px;">15 min</div>
<div class="t rn" style="left:403.10px;top:483.10px;width:56.75px;height:8.00px;line-height:8.00px;">Levomethadon</div>
<div class="t lv" style="left:463.90px;top:485.10px;width:250.00px;height:8.00px;line-height:8.00px;">Schmerzen auftreten. Auch danach vier Stunden Pause einhalten.</div>
<div class="t lv2" style="left:605.00px;top:499.10px;width:110.00px;height:8.00px;line-height:8.00px;">Anfangs täglicher Patientenkontakt (Tel.) nötig</div>
</div>
</body></html>
